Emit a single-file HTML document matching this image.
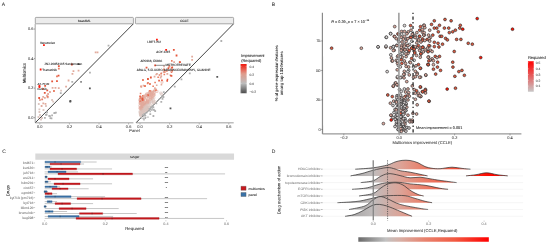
<!DOCTYPE html>
<html><head><meta charset="utf-8"><style>
html,body{margin:0;padding:0;background:#fff;width:550px;height:245px;overflow:hidden;}
svg{display:block;will-change:transform;}
text{font-family:"Liberation Sans",sans-serif;}
</style></head><body>
<svg width="550" height="245" viewBox="0 0 550 245">
<rect width="550" height="245" fill="#fff"/>
<g transform="matrix(1,0,0.001,1,-0.12,0)">
<text x="1.8" y="6.1" font-size="5.0" text-anchor="start" fill="#333" stroke="#333" stroke-width="0.06" style="stroke-width:0.05">A</text>
<rect x="35.4" y="17.4" width="98.1" height="6.4" rx="0.8" fill="#ececec" stroke="#8c8c8c" stroke-width="0.75"/>
<text x="84.45" y="21.9" font-size="3.2" text-anchor="middle" fill="#222" stroke="#222" stroke-width="0.06" >beatAML</text>
<rect x="135.5" y="17.4" width="98.2" height="6.4" rx="0.8" fill="#ececec" stroke="#8c8c8c" stroke-width="0.75"/>
<text x="184.6" y="21.9" font-size="3.2" text-anchor="middle" fill="#222" stroke="#222" stroke-width="0.06" >CCLE</text>
<line x1="35.3" y1="23.8" x2="35.3" y2="122.6" stroke="#b8b8b8" stroke-width="1.3" />
<line x1="35.4" y1="122.7" x2="133.4" y2="122.7" stroke="#bdbdbd" stroke-width="1.4" />
<line x1="136.2" y1="122.7" x2="233.7" y2="122.7" stroke="#bdbdbd" stroke-width="1.4" />
<text x="33.5" y="30.12" font-size="3.95" text-anchor="end" fill="#333" stroke="#333" stroke-width="0.06" style="stroke-width:0.04">0.6</text>
<line x1="33.9" y1="29.02" x2="35" y2="29.02" stroke="#333" stroke-width="0.45" />
<text x="33.5" y="59.68" font-size="3.95" text-anchor="end" fill="#333" stroke="#333" stroke-width="0.06" style="stroke-width:0.04">0.4</text>
<line x1="33.9" y1="58.58" x2="35" y2="58.58" stroke="#333" stroke-width="0.45" />
<text x="33.5" y="89.24" font-size="3.95" text-anchor="end" fill="#333" stroke="#333" stroke-width="0.06" style="stroke-width:0.04">0.2</text>
<line x1="33.9" y1="88.14" x2="35" y2="88.14" stroke="#333" stroke-width="0.45" />
<text x="33.5" y="118.8" font-size="3.95" text-anchor="end" fill="#333" stroke="#333" stroke-width="0.06" style="stroke-width:0.04">0.0</text>
<line x1="33.9" y1="117.7" x2="35" y2="117.7" stroke="#333" stroke-width="0.45" />
<line x1="39.8" y1="123.4" x2="39.8" y2="124.4" stroke="#333" stroke-width="0.45" />
<text x="39.8" y="127.9" font-size="3.95" text-anchor="middle" fill="#333" stroke="#333" stroke-width="0.06" style="stroke-width:0.04">0.0</text>
<line x1="69.4" y1="123.4" x2="69.4" y2="124.4" stroke="#333" stroke-width="0.45" />
<text x="69.4" y="127.9" font-size="3.95" text-anchor="middle" fill="#333" stroke="#333" stroke-width="0.06" style="stroke-width:0.04">0.2</text>
<line x1="99" y1="123.4" x2="99" y2="124.4" stroke="#333" stroke-width="0.45" />
<text x="99" y="127.9" font-size="3.95" text-anchor="middle" fill="#333" stroke="#333" stroke-width="0.06" style="stroke-width:0.04">0.4</text>
<line x1="128.6" y1="123.4" x2="128.6" y2="124.4" stroke="#333" stroke-width="0.45" />
<text x="128.6" y="127.9" font-size="3.95" text-anchor="middle" fill="#333" stroke="#333" stroke-width="0.06" style="stroke-width:0.04">0.6</text>
<line x1="140" y1="123.4" x2="140" y2="124.4" stroke="#333" stroke-width="0.45" />
<text x="140" y="127.9" font-size="3.95" text-anchor="middle" fill="#333" stroke="#333" stroke-width="0.06" style="stroke-width:0.04">0.0</text>
<line x1="169.6" y1="123.4" x2="169.6" y2="124.4" stroke="#333" stroke-width="0.45" />
<text x="169.6" y="127.9" font-size="3.95" text-anchor="middle" fill="#333" stroke="#333" stroke-width="0.06" style="stroke-width:0.04">0.2</text>
<line x1="199.2" y1="123.4" x2="199.2" y2="124.4" stroke="#333" stroke-width="0.45" />
<text x="199.2" y="127.9" font-size="3.95" text-anchor="middle" fill="#333" stroke="#333" stroke-width="0.06" style="stroke-width:0.04">0.4</text>
<line x1="228.8" y1="123.4" x2="228.8" y2="124.4" stroke="#333" stroke-width="0.45" />
<text x="228.8" y="127.9" font-size="3.95" text-anchor="middle" fill="#333" stroke="#333" stroke-width="0.06" style="stroke-width:0.04">0.6</text>
<text x="134.5" y="132.4" font-size="4.1" text-anchor="middle" fill="#2a2a2a" stroke="#2a2a2a" stroke-width="0.06" style="stroke-width:0.03">Panel</text>
<text x="0" y="0" font-size="4.2" text-anchor="middle" fill="#222" stroke="#222" stroke-width="0.06" transform="translate(25.8,73) rotate(-90)">Multiomics</text>
<line x1="35.4" y1="122.6" x2="133.5" y2="23.8" stroke="#222" stroke-width="0.85" />
<line x1="136.2" y1="122.6" x2="233.7" y2="23.8" stroke="#222" stroke-width="0.85" />
<rect x="43.1" y="44.3" width="1.8" height="1.8" fill="#ff1a0d"/>
<rect x="58" y="65.3" width="1.8" height="1.8" fill="#e5553a"/>
<rect x="58" y="67.8" width="1.8" height="1.8" fill="#e97d62"/>
<rect x="39.8" y="68.6" width="1.8" height="1.8" fill="#ff1a0d"/>
<rect x="71" y="63.6" width="1.8" height="1.8" fill="#e5553a"/>
<rect x="72.6" y="70.2" width="1.8" height="1.8" fill="#e2ab9d"/>
<rect x="71.6" y="72.9" width="1.8" height="1.8" fill="#e2ab9d"/>
<rect x="77.7" y="69.8" width="1.8" height="1.8" fill="#e2ab9d"/>
<rect x="56.1" y="75.5" width="1.8" height="1.8" fill="#e97d62"/>
<rect x="57.7" y="74.7" width="1.8" height="1.8" fill="#e5553a"/>
<rect x="51.3" y="80.4" width="1.8" height="1.8" fill="#e5553a"/>
<rect x="56.1" y="80.2" width="1.8" height="1.8" fill="#e5553a"/>
<rect x="67.7" y="79.6" width="1.8" height="1.8" fill="#e2ab9d"/>
<rect x="71.4" y="81" width="1.8" height="1.8" fill="#b0b0b0"/>
<rect x="47.6" y="83" width="1.8" height="1.8" fill="#dcc6c0"/>
<rect x="44.3" y="84.9" width="1.8" height="1.8" fill="#e5553a"/>
<rect x="38.6" y="84.9" width="1.8" height="1.8" fill="#ff1a0d"/>
<rect x="38.6" y="86.1" width="1.8" height="1.8" fill="#ff1a0d"/>
<rect x="46.4" y="89.4" width="1.8" height="1.8" fill="#e5553a"/>
<rect x="51.7" y="86.9" width="1.8" height="1.8" fill="#e2ab9d"/>
<rect x="54.6" y="86.9" width="1.8" height="1.8" fill="#e2ab9d"/>
<rect x="57.9" y="87.3" width="1.8" height="1.8" fill="#e2ab9d"/>
<rect x="65.2" y="85.7" width="1.8" height="1.8" fill="#e2ab9d"/>
<rect x="60.2" y="89.8" width="1.8" height="1.8" fill="#dcc6c0"/>
<rect x="59.9" y="92.3" width="1.8" height="1.8" fill="#b0b0b0"/>
<rect x="43.9" y="91.9" width="1.8" height="1.8" fill="#e5553a"/>
<rect x="47.2" y="93.1" width="1.8" height="1.8" fill="#e2ab9d"/>
<rect x="46" y="94.7" width="1.8" height="1.8" fill="#e2ab9d"/>
<rect x="42.3" y="96" width="1.8" height="1.8" fill="#e2ab9d"/>
<rect x="46.8" y="96.4" width="1.8" height="1.8" fill="#e2ab9d"/>
<rect x="69.5" y="100.1" width="1.8" height="1.8" fill="#555555"/>
<rect x="89" y="87.4" width="1.8" height="1.8" fill="#555555"/>
<rect x="80.2" y="80.9" width="1.8" height="1.8" fill="#8c8c8c"/>
<rect x="89.1" y="71.7" width="1.8" height="1.8" fill="#b0b0b0"/>
<rect x="77.7" y="63.2" width="1.8" height="1.8" fill="#555555"/>
<rect x="94.8" y="51.5" width="1.8" height="1.8" fill="#e2ab9d"/>
<rect x="96.7" y="51.5" width="1.8" height="1.8" fill="#e2ab9d"/>
<rect x="107.7" y="44.8" width="1.8" height="1.8" fill="#b0b0b0"/>
<rect x="53.9" y="112" width="1.8" height="1.8" fill="#b0b0b0"/>
<rect x="49" y="115.3" width="1.8" height="1.8" fill="#b0b0b0"/>
<rect x="50.6" y="117.5" width="1.8" height="1.8" fill="#b0b0b0"/>
<rect x="45.7" y="113.6" width="1.8" height="1.8" fill="#b0b0b0"/>
<rect x="44" y="116.9" width="1.8" height="1.8" fill="#b0b0b0"/>
<rect x="39.1" y="99.1" width="1.8" height="1.8" fill="#e2ab9d"/>
<rect x="41.3" y="98.5" width="1.8" height="1.8" fill="#e97d62"/>
<rect x="44" y="96.9" width="1.8" height="1.8" fill="#e2ab9d"/>
<rect x="46.8" y="95.8" width="1.8" height="1.8" fill="#e97d62"/>
<rect x="42.4" y="102.4" width="1.8" height="1.8" fill="#e2ab9d"/>
<rect x="44.6" y="102.9" width="1.8" height="1.8" fill="#e2ab9d"/>
<rect x="40.7" y="105.1" width="1.8" height="1.8" fill="#e2ab9d"/>
<rect x="45.1" y="105.1" width="1.8" height="1.8" fill="#dcc6c0"/>
<rect x="51.2" y="99.1" width="1.8" height="1.8" fill="#dcc6c0"/>
<rect x="52.3" y="100.7" width="1.8" height="1.8" fill="#dcc6c0"/>
<rect x="38.5" y="108.4" width="1.8" height="1.8" fill="#dcc6c0"/>
<rect x="38.5" y="111.1" width="1.8" height="1.8" fill="#dcc6c0"/>
<rect x="39.1" y="114.1" width="1.8" height="1.8" fill="#dcc6c0"/>
<rect x="41.1" y="117.1" width="1.8" height="1.8" fill="#dcc6c0"/>
<rect x="37.6" y="116.1" width="1.8" height="1.8" fill="#dcc6c0"/>
<rect x="40.1" y="118.6" width="1.8" height="1.8" fill="#dcc6c0"/>
<rect x="45.1" y="113.9" width="1.8" height="1.8" fill="#b0b0b0"/>
<rect x="48.4" y="115.1" width="1.8" height="1.8" fill="#b0b0b0"/>
<rect x="49.5" y="117.3" width="1.8" height="1.8" fill="#b0b0b0"/>
<rect x="53.4" y="112.3" width="1.8" height="1.8" fill="#b0b0b0"/>
<rect x="55" y="111.7" width="1.8" height="1.8" fill="#b0b0b0"/>
<rect x="46.2" y="111.2" width="1.8" height="1.8" fill="#b0b0b0"/>
<rect x="51.2" y="114.5" width="1.8" height="1.8" fill="#b0b0b0"/>
<rect x="69.4" y="100.7" width="1.8" height="1.8" fill="#555555"/>
<rect x="49.1" y="91.1" width="1.8" height="1.8" fill="#e2ab9d"/>
<rect x="53.1" y="90.1" width="1.8" height="1.8" fill="#e97d62"/>
<rect x="42.1" y="88.1" width="1.8" height="1.8" fill="#e97d62"/>
<rect x="38.3" y="97.1" width="1.8" height="1.8" fill="#e5553a"/>
<rect x="37.9" y="103.1" width="1.8" height="1.8" fill="#dcc6c0"/>
<rect x="42.6" y="109.1" width="1.8" height="1.8" fill="#dcc6c0"/>
<rect x="156.1" y="38.8" width="1.8" height="1.8" fill="#ff1a0d"/>
<rect x="165.3" y="49" width="1.8" height="1.8" fill="#ff1a0d"/>
<rect x="173" y="49" width="1.8" height="1.8" fill="#e5553a"/>
<rect x="175.7" y="54.6" width="1.8" height="1.8" fill="#e5553a"/>
<rect x="173.3" y="61.3" width="1.8" height="1.8" fill="#e2ab9d"/>
<rect x="178.8" y="61.3" width="1.8" height="1.8" fill="#e2ab9d"/>
<rect x="154.3" y="64.4" width="1.8" height="1.8" fill="#e5553a"/>
<rect x="145.7" y="66.8" width="1.8" height="1.8" fill="#e5553a"/>
<rect x="156.1" y="73" width="1.8" height="1.8" fill="#e2ab9d"/>
<rect x="162.9" y="71.1" width="1.8" height="1.8" fill="#e2ab9d"/>
<rect x="166.5" y="73" width="1.8" height="1.8" fill="#e2ab9d"/>
<rect x="169.6" y="74.2" width="1.8" height="1.8" fill="#e2ab9d"/>
<rect x="150" y="76.6" width="1.8" height="1.8" fill="#e5553a"/>
<rect x="153.7" y="75.8" width="1.8" height="1.8" fill="#e2ab9d"/>
<rect x="159.8" y="76.6" width="1.8" height="1.8" fill="#e2ab9d"/>
<rect x="191.3" y="55.8" width="1.8" height="1.8" fill="#e2ab9d"/>
<rect x="191.3" y="58.9" width="1.8" height="1.8" fill="#e2ab9d"/>
<rect x="179.1" y="61.3" width="1.8" height="1.8" fill="#e5553a"/>
<rect x="216.4" y="76" width="1.8" height="1.8" fill="#555555"/>
<rect x="188.9" y="72.4" width="1.8" height="1.8" fill="#b0b0b0"/>
<rect x="220.5" y="40.1" width="1.8" height="1.8" fill="#b0b0b0"/>
<rect x="173.9" y="85.7" width="1.8" height="1.8" fill="#b0b0b0"/>
<rect x="180.6" y="78.4" width="1.8" height="1.8" fill="#b0b0b0"/>
<rect x="162.3" y="96.1" width="1.8" height="1.8" fill="#b0b0b0"/>
<rect x="162.9" y="91.2" width="1.8" height="1.8" fill="#b0b0b0"/>
<rect x="169.6" y="107.4" width="1.8" height="1.8" fill="#555555"/>
<rect x="161.6" y="97.9" width="1.8" height="1.8" fill="#b0b0b0"/>
<rect x="160.4" y="101" width="1.8" height="1.8" fill="#b0b0b0"/>
<rect x="152.5" y="109" width="1.8" height="1.8" fill="#b0b0b0"/>
<rect x="154.3" y="110.2" width="1.8" height="1.8" fill="#b0b0b0"/>
<rect x="152.5" y="115.1" width="1.8" height="1.8" fill="#b0b0b0"/>
<rect x="149.4" y="113.2" width="1.8" height="1.8" fill="#b0b0b0"/>
<rect x="147.1" y="78.1" width="1.8" height="1.8" fill="#e5553a"/>
<rect x="142.1" y="79.1" width="1.8" height="1.8" fill="#e97d62"/>
<rect x="144.1" y="85.1" width="1.8" height="1.8" fill="#e97d62"/>
<rect x="149.1" y="83.1" width="1.8" height="1.8" fill="#e97d62"/>
<rect x="140.79" y="103.42" width="2" height="2" fill="none" stroke="#e2ab9d" stroke-width="0.6"/>
<rect x="142.87" y="111.12" width="2" height="2" fill="none" stroke="#dcc6c0" stroke-width="0.6"/>
<rect x="146.27" y="107.93" width="2" height="2" fill="none" stroke="#dcc6c0" stroke-width="0.6"/>
<rect x="140.44" y="106.38" width="2" height="2" fill="none" stroke="#e2ab9d" stroke-width="0.6"/>
<rect x="147.14" y="106.93" width="2" height="2" fill="none" stroke="#dcc6c0" stroke-width="0.6"/>
<rect x="140.73" y="112.98" width="2" height="2" fill="none" stroke="#dcc6c0" stroke-width="0.6"/>
<rect x="152.27" y="101.2" width="2" height="2" fill="none" stroke="#dcc6c0" stroke-width="0.6"/>
<rect x="145.67" y="106.23" width="2" height="2" fill="none" stroke="#dcc6c0" stroke-width="0.6"/>
<rect x="152.47" y="94.36" width="2" height="2" fill="none" stroke="#e2ab9d" stroke-width="0.6"/>
<rect x="152.9" y="96.77" width="2" height="2" fill="none" stroke="#dcc6c0" stroke-width="0.6"/>
<rect x="141.19" y="99.11" width="2" height="2" fill="none" stroke="#e2ab9d" stroke-width="0.6"/>
<rect x="139.08" y="111.47" width="2" height="2" fill="none" stroke="#dcc6c0" stroke-width="0.6"/>
<rect x="141.22" y="109.13" width="2" height="2" fill="none" stroke="#dcc6c0" stroke-width="0.6"/>
<rect x="141.91" y="99.32" width="2" height="2" fill="none" stroke="#e2ab9d" stroke-width="0.6"/>
<rect x="143.23" y="101.49" width="2" height="2" fill="none" stroke="#e2ab9d" stroke-width="0.6"/>
<rect x="148.45" y="101.29" width="2" height="2" fill="none" stroke="#dcc6c0" stroke-width="0.6"/>
<rect x="141.5" y="112.64" width="2" height="2" fill="none" stroke="#dcc6c0" stroke-width="0.6"/>
<rect x="139.57" y="112.38" width="2" height="2" fill="none" stroke="#dcc6c0" stroke-width="0.6"/>
<rect x="142.35" y="107.97" width="2" height="2" fill="none" stroke="#dcc6c0" stroke-width="0.6"/>
<rect x="146.49" y="99.55" width="2" height="2" fill="none" stroke="#e2ab9d" stroke-width="0.6"/>
<rect x="145.28" y="96.89" width="2" height="2" fill="none" stroke="#e2ab9d" stroke-width="0.6"/>
<rect x="140.7" y="102.59" width="2" height="2" fill="none" stroke="#e2ab9d" stroke-width="0.6"/>
<rect x="139.1" y="107.27" width="2" height="2" fill="none" stroke="#e2ab9d" stroke-width="0.6"/>
<rect x="149.34" y="92.05" width="2" height="2" fill="none" stroke="#e2ab9d" stroke-width="0.6"/>
<rect x="139.57" y="98.02" width="2" height="2" fill="none" stroke="#e2ab9d" stroke-width="0.6"/>
<rect x="145.36" y="101.84" width="2" height="2" fill="none" stroke="#e2ab9d" stroke-width="0.6"/>
<rect x="142.5" y="96.58" width="2" height="2" fill="none" stroke="#e2ab9d" stroke-width="0.6"/>
<rect x="145.11" y="103.59" width="2" height="2" fill="none" stroke="#dcc6c0" stroke-width="0.6"/>
<rect x="141.88" y="104.16" width="2" height="2" fill="none" stroke="#e2ab9d" stroke-width="0.6"/>
<rect x="139.48" y="101.9" width="2" height="2" fill="none" stroke="#e2ab9d" stroke-width="0.6"/>
<rect x="141.79" y="107.88" width="2" height="2" fill="none" stroke="#dcc6c0" stroke-width="0.6"/>
<rect x="145.45" y="102.01" width="2" height="2" fill="none" stroke="#e2ab9d" stroke-width="0.6"/>
<rect x="139.6" y="114.06" width="2" height="2" fill="none" stroke="#dcc6c0" stroke-width="0.6"/>
<rect x="141.64" y="109.36" width="2" height="2" fill="none" stroke="#dcc6c0" stroke-width="0.6"/>
<rect x="139.68" y="102.86" width="2" height="2" fill="none" stroke="#e2ab9d" stroke-width="0.6"/>
<rect x="141.52" y="108.82" width="2" height="2" fill="none" stroke="#dcc6c0" stroke-width="0.6"/>
<rect x="149.57" y="99.09" width="2" height="2" fill="none" stroke="#dcc6c0" stroke-width="0.6"/>
<rect x="144.49" y="98.98" width="2" height="2" fill="none" stroke="#e2ab9d" stroke-width="0.6"/>
<rect x="144.4" y="94.89" width="2" height="2" fill="none" stroke="#e2ab9d" stroke-width="0.6"/>
<rect x="143.6" y="106.1" width="2" height="2" fill="none" stroke="#dcc6c0" stroke-width="0.6"/>
<rect x="145.99" y="106" width="2" height="2" fill="none" stroke="#dcc6c0" stroke-width="0.6"/>
<rect x="144.8" y="106.07" width="2" height="2" fill="none" stroke="#dcc6c0" stroke-width="0.6"/>
<rect x="139.3" y="99.52" width="2" height="2" fill="none" stroke="#e2ab9d" stroke-width="0.6"/>
<rect x="146.88" y="100.72" width="2" height="2" fill="none" stroke="#e2ab9d" stroke-width="0.6"/>
<rect x="142.84" y="108.09" width="2" height="2" fill="none" stroke="#dcc6c0" stroke-width="0.6"/>
<rect x="145.84" y="107.32" width="2" height="2" fill="none" stroke="#dcc6c0" stroke-width="0.6"/>
<rect x="148.03" y="96.11" width="2" height="2" fill="none" stroke="#e2ab9d" stroke-width="0.6"/>
<rect x="143.05" y="95.1" width="2" height="2" fill="none" stroke="#e2ab9d" stroke-width="0.6"/>
<rect x="141.97" y="109.67" width="2" height="2" fill="none" stroke="#dcc6c0" stroke-width="0.6"/>
<rect x="145.97" y="107.92" width="2" height="2" fill="none" stroke="#dcc6c0" stroke-width="0.6"/>
<rect x="145.64" y="109.08" width="2" height="2" fill="none" stroke="#dcc6c0" stroke-width="0.6"/>
<rect x="148.41" y="93.59" width="2" height="2" fill="none" stroke="#e2ab9d" stroke-width="0.6"/>
<rect x="141.44" y="111.5" width="2" height="2" fill="none" stroke="#dcc6c0" stroke-width="0.6"/>
<rect x="144.74" y="102.01" width="2" height="2" fill="none" stroke="#e2ab9d" stroke-width="0.6"/>
<rect x="144.2" y="109.08" width="2" height="2" fill="none" stroke="#dcc6c0" stroke-width="0.6"/>
<rect x="143.24" y="97.39" width="2" height="2" fill="none" stroke="#e2ab9d" stroke-width="0.6"/>
<rect x="150" y="93.84" width="2" height="2" fill="none" stroke="#e2ab9d" stroke-width="0.6"/>
<rect x="142.36" y="105.53" width="2" height="2" fill="none" stroke="#e2ab9d" stroke-width="0.6"/>
<rect x="152.52" y="92.65" width="2" height="2" fill="none" stroke="#e2ab9d" stroke-width="0.6"/>
<rect x="153.24" y="93.96" width="2" height="2" fill="none" stroke="#e2ab9d" stroke-width="0.6"/>
<rect x="145.24" y="102.47" width="2" height="2" fill="none" stroke="#e2ab9d" stroke-width="0.6"/>
<rect x="143.57" y="105.37" width="2" height="2" fill="none" stroke="#dcc6c0" stroke-width="0.6"/>
<rect x="147.28" y="101.28" width="2" height="2" fill="none" stroke="#dcc6c0" stroke-width="0.6"/>
<rect x="160.61" y="93.17" width="2" height="2" fill="none" stroke="#dcc6c0" stroke-width="0.6"/>
<rect x="141.75" y="104.12" width="2" height="2" fill="none" stroke="#e2ab9d" stroke-width="0.6"/>
<rect x="140.94" y="105.39" width="2" height="2" fill="none" stroke="#e2ab9d" stroke-width="0.6"/>
<rect x="149.36" y="104.73" width="2" height="2" fill="none" stroke="#dcc6c0" stroke-width="0.6"/>
<rect x="142.24" y="109.77" width="2" height="2" fill="none" stroke="#dcc6c0" stroke-width="0.6"/>
<rect x="146.93" y="92.56" width="2" height="2" fill="none" stroke="#e2ab9d" stroke-width="0.6"/>
<rect x="146.81" y="98.99" width="2" height="2" fill="none" stroke="#e2ab9d" stroke-width="0.6"/>
<rect x="142.68" y="104.69" width="2" height="2" fill="none" stroke="#e2ab9d" stroke-width="0.6"/>
<rect x="139.36" y="98.24" width="2" height="2" fill="none" stroke="#e97d62" stroke-width="0.6"/>
<rect x="142.14" y="111.44" width="2" height="2" fill="none" stroke="#dcc6c0" stroke-width="0.6"/>
<rect x="139.05" y="110.59" width="2" height="2" fill="none" stroke="#dcc6c0" stroke-width="0.6"/>
<rect x="140.12" y="112.54" width="2" height="2" fill="none" stroke="#dcc6c0" stroke-width="0.6"/>
<rect x="153.93" y="100.71" width="2" height="2" fill="none" stroke="#dcc6c0" stroke-width="0.6"/>
<rect x="148.21" y="104.87" width="2" height="2" fill="none" stroke="#dcc6c0" stroke-width="0.6"/>
<rect x="141.73" y="104.57" width="2" height="2" fill="none" stroke="#e2ab9d" stroke-width="0.6"/>
<rect x="148.54" y="90.85" width="2" height="2" fill="none" stroke="#e2ab9d" stroke-width="0.6"/>
<rect x="140.39" y="99.68" width="2" height="2" fill="none" stroke="#e2ab9d" stroke-width="0.6"/>
<rect x="140.8" y="108.53" width="2" height="2" fill="none" stroke="#dcc6c0" stroke-width="0.6"/>
<rect x="144.68" y="108.02" width="2" height="2" fill="none" stroke="#dcc6c0" stroke-width="0.6"/>
<rect x="140.08" y="101.58" width="2" height="2" fill="none" stroke="#e2ab9d" stroke-width="0.6"/>
<rect x="148.65" y="101.77" width="2" height="2" fill="none" stroke="#dcc6c0" stroke-width="0.6"/>
<rect x="141.21" y="96.61" width="2" height="2" fill="none" stroke="#e2ab9d" stroke-width="0.6"/>
<rect x="153.36" y="89.87" width="2" height="2" fill="none" stroke="#e2ab9d" stroke-width="0.6"/>
<rect x="144.26" y="107.53" width="2" height="2" fill="none" stroke="#dcc6c0" stroke-width="0.6"/>
<rect x="150.85" y="96.77" width="2" height="2" fill="none" stroke="#e2ab9d" stroke-width="0.6"/>
<rect x="139.92" y="114.61" width="2" height="2" fill="none" stroke="#dcc6c0" stroke-width="0.6"/>
<rect x="140.26" y="110.52" width="2" height="2" fill="none" stroke="#dcc6c0" stroke-width="0.6"/>
<rect x="139.42" y="98.62" width="2" height="2" fill="none" stroke="#e2ab9d" stroke-width="0.6"/>
<rect x="151.18" y="97.58" width="2" height="2" fill="none" stroke="#dcc6c0" stroke-width="0.6"/>
<rect x="161.05" y="81.15" width="2" height="2" fill="none" stroke="#e2ab9d" stroke-width="0.6"/>
<rect x="148.04" y="101.79" width="2" height="2" fill="none" stroke="#dcc6c0" stroke-width="0.6"/>
<rect x="139.78" y="112.32" width="2" height="2" fill="none" stroke="#dcc6c0" stroke-width="0.6"/>
<rect x="144.44" y="107.7" width="2" height="2" fill="none" stroke="#dcc6c0" stroke-width="0.6"/>
<rect x="151.14" y="91.16" width="2" height="2" fill="none" stroke="#e2ab9d" stroke-width="0.6"/>
<rect x="150.99" y="97.25" width="2" height="2" fill="none" stroke="#e2ab9d" stroke-width="0.6"/>
<rect x="147.06" y="106.82" width="2" height="2" fill="none" stroke="#dcc6c0" stroke-width="0.6"/>
<rect x="150.67" y="94.6" width="2" height="2" fill="none" stroke="#e2ab9d" stroke-width="0.6"/>
<rect x="150.69" y="93.07" width="2" height="2" fill="none" stroke="#e2ab9d" stroke-width="0.6"/>
<rect x="146.34" y="101.52" width="2" height="2" fill="none" stroke="#e2ab9d" stroke-width="0.6"/>
<rect x="144.94" y="105.22" width="2" height="2" fill="none" stroke="#dcc6c0" stroke-width="0.6"/>
<rect x="151.64" y="91.41" width="2" height="2" fill="none" stroke="#e2ab9d" stroke-width="0.6"/>
<rect x="146.75" y="102.41" width="2" height="2" fill="none" stroke="#dcc6c0" stroke-width="0.6"/>
<rect x="140.15" y="98.22" width="2" height="2" fill="none" stroke="#e2ab9d" stroke-width="0.6"/>
<rect x="139.49" y="113.68" width="2" height="2" fill="none" stroke="#dcc6c0" stroke-width="0.6"/>
<rect x="143.61" y="109.29" width="2" height="2" fill="none" stroke="#dcc6c0" stroke-width="0.6"/>
<rect x="150.9" y="102.25" width="2" height="2" fill="none" stroke="#dcc6c0" stroke-width="0.6"/>
<rect x="147.01" y="94.85" width="2" height="2" fill="none" stroke="#e2ab9d" stroke-width="0.6"/>
<rect x="150.53" y="99.68" width="2" height="2" fill="none" stroke="#dcc6c0" stroke-width="0.6"/>
<rect x="140.17" y="105.86" width="2" height="2" fill="none" stroke="#e2ab9d" stroke-width="0.6"/>
<rect x="139.64" y="98.15" width="2" height="2" fill="none" stroke="#e2ab9d" stroke-width="0.6"/>
<rect x="139.71" y="106.68" width="2" height="2" fill="none" stroke="#e2ab9d" stroke-width="0.6"/>
<rect x="146.64" y="94.34" width="2" height="2" fill="none" stroke="#e2ab9d" stroke-width="0.6"/>
<rect x="142.22" y="98.87" width="2" height="2" fill="none" stroke="#e2ab9d" stroke-width="0.6"/>
<rect x="140.21" y="110.34" width="2" height="2" fill="none" stroke="#dcc6c0" stroke-width="0.6"/>
<rect x="144.72" y="106.88" width="2" height="2" fill="none" stroke="#dcc6c0" stroke-width="0.6"/>
<rect x="144.1" y="104.57" width="2" height="2" fill="none" stroke="#dcc6c0" stroke-width="0.6"/>
<rect x="141.96" y="111.2" width="2" height="2" fill="none" stroke="#dcc6c0" stroke-width="0.6"/>
<rect x="145.13" y="102.97" width="2" height="2" fill="none" stroke="#e2ab9d" stroke-width="0.6"/>
<rect x="142.78" y="102.9" width="2" height="2" fill="none" stroke="#e2ab9d" stroke-width="0.6"/>
<rect x="145.72" y="94.25" width="2" height="2" fill="none" stroke="#e2ab9d" stroke-width="0.6"/>
<rect x="143.52" y="103.69" width="2" height="2" fill="none" stroke="#e2ab9d" stroke-width="0.6"/>
<rect x="148.42" y="106.24" width="2" height="2" fill="none" stroke="#dcc6c0" stroke-width="0.6"/>
<rect x="140.67" y="107.37" width="2" height="2" fill="none" stroke="#e2ab9d" stroke-width="0.6"/>
<rect x="139" y="102.11" width="2" height="2" fill="none" stroke="#e2ab9d" stroke-width="0.6"/>
<rect x="139.36" y="113.11" width="2" height="2" fill="none" stroke="#dcc6c0" stroke-width="0.6"/>
<rect x="151.61" y="95.47" width="2" height="2" fill="none" stroke="#e2ab9d" stroke-width="0.6"/>
<rect x="140.87" y="109.16" width="2" height="2" fill="none" stroke="#dcc6c0" stroke-width="0.6"/>
<rect x="149" y="93.93" width="2" height="2" fill="none" stroke="#e2ab9d" stroke-width="0.6"/>
<rect x="139.9" y="113.59" width="2" height="2" fill="none" stroke="#dcc6c0" stroke-width="0.6"/>
<rect x="144.42" y="106.6" width="2" height="2" fill="none" stroke="#dcc6c0" stroke-width="0.6"/>
<rect x="140.98" y="100.95" width="2" height="2" fill="none" stroke="#e2ab9d" stroke-width="0.6"/>
<rect x="149.15" y="94.22" width="2" height="2" fill="none" stroke="#e2ab9d" stroke-width="0.6"/>
<rect x="139.21" y="99.68" width="2" height="2" fill="none" stroke="#e2ab9d" stroke-width="0.6"/>
<rect x="149.21" y="98.46" width="2" height="2" fill="none" stroke="#e2ab9d" stroke-width="0.6"/>
<rect x="142.62" y="104.32" width="2" height="2" fill="none" stroke="#e2ab9d" stroke-width="0.6"/>
<rect x="141.85" y="104.64" width="2" height="2" fill="none" stroke="#e2ab9d" stroke-width="0.6"/>
<rect x="147.06" y="100.86" width="2" height="2" fill="none" stroke="#e2ab9d" stroke-width="0.6"/>
<rect x="150.48" y="91.08" width="2" height="2" fill="none" stroke="#e2ab9d" stroke-width="0.6"/>
<rect x="143.24" y="95.81" width="2" height="2" fill="none" stroke="#e2ab9d" stroke-width="0.6"/>
<rect x="139.33" y="98.96" width="2" height="2" fill="none" stroke="#e2ab9d" stroke-width="0.6"/>
<rect x="149.11" y="92.86" width="2" height="2" fill="none" stroke="#e2ab9d" stroke-width="0.6"/>
<rect x="141.4" y="106.66" width="2" height="2" fill="none" stroke="#e2ab9d" stroke-width="0.6"/>
<rect x="141.85" y="112.13" width="2" height="2" fill="none" stroke="#dcc6c0" stroke-width="0.6"/>
<rect x="138.89" y="104.67" width="2" height="2" fill="none" stroke="#e2ab9d" stroke-width="0.6"/>
<rect x="141.87" y="99.97" width="2" height="2" fill="none" stroke="#e2ab9d" stroke-width="0.6"/>
<rect x="142.47" y="100.74" width="2" height="2" fill="none" stroke="#e2ab9d" stroke-width="0.6"/>
<rect x="141.55" y="102.58" width="2" height="2" fill="none" stroke="#e2ab9d" stroke-width="0.6"/>
<rect x="149.2" y="90.51" width="2" height="2" fill="none" stroke="#e2ab9d" stroke-width="0.6"/>
<rect x="151.89" y="100.29" width="2" height="2" fill="none" stroke="#dcc6c0" stroke-width="0.6"/>
<rect x="146.55" y="101.18" width="2" height="2" fill="none" stroke="#e2ab9d" stroke-width="0.6"/>
<rect x="141.12" y="96.59" width="2" height="2" fill="none" stroke="#e2ab9d" stroke-width="0.6"/>
<rect x="143.27" y="103.67" width="2" height="2" fill="none" stroke="#e2ab9d" stroke-width="0.6"/>
<rect x="146.05" y="104.06" width="2" height="2" fill="none" stroke="#dcc6c0" stroke-width="0.6"/>
<rect x="141.09" y="101.82" width="2" height="2" fill="none" stroke="#e2ab9d" stroke-width="0.6"/>
<rect x="145.42" y="109.22" width="2" height="2" fill="none" stroke="#dcc6c0" stroke-width="0.6"/>
<rect x="146.97" y="107.69" width="2" height="2" fill="none" stroke="#dcc6c0" stroke-width="0.6"/>
<rect x="141.63" y="108.36" width="2" height="2" fill="none" stroke="#dcc6c0" stroke-width="0.6"/>
<rect x="145.65" y="108.48" width="2" height="2" fill="none" stroke="#dcc6c0" stroke-width="0.6"/>
<rect x="145.55" y="93.12" width="2" height="2" fill="none" stroke="#e2ab9d" stroke-width="0.6"/>
<rect x="143.89" y="109.68" width="2" height="2" fill="none" stroke="#dcc6c0" stroke-width="0.6"/>
<rect x="159.81" y="92.08" width="2" height="2" fill="none" stroke="#dcc6c0" stroke-width="0.6"/>
<rect x="152.41" y="99.07" width="2" height="2" fill="none" stroke="#dcc6c0" stroke-width="0.6"/>
<rect x="142.19" y="111" width="2" height="2" fill="none" stroke="#dcc6c0" stroke-width="0.6"/>
<rect x="154.53" y="88.67" width="2" height="2" fill="none" stroke="#e2ab9d" stroke-width="0.6"/>
<rect x="147.11" y="104.31" width="2" height="2" fill="none" stroke="#dcc6c0" stroke-width="0.6"/>
<rect x="149.49" y="97.13" width="2" height="2" fill="none" stroke="#e2ab9d" stroke-width="0.6"/>
<rect x="153.43" y="91.54" width="2" height="2" fill="none" stroke="#e2ab9d" stroke-width="0.6"/>
<rect x="141.07" y="102.47" width="2" height="2" fill="none" stroke="#e2ab9d" stroke-width="0.6"/>
<rect x="140.2" y="108.07" width="2" height="2" fill="none" stroke="#e2ab9d" stroke-width="0.6"/>
<rect x="155.96" y="90.37" width="2" height="2" fill="none" stroke="#e2ab9d" stroke-width="0.6"/>
<rect x="147.15" y="95.18" width="2" height="2" fill="none" stroke="#e2ab9d" stroke-width="0.6"/>
<rect x="152.57" y="101.6" width="2" height="2" fill="none" stroke="#dcc6c0" stroke-width="0.6"/>
<rect x="146.76" y="94.41" width="2" height="2" fill="none" stroke="#e2ab9d" stroke-width="0.6"/>
<rect x="145.8" y="100.73" width="2" height="2" fill="none" stroke="#e2ab9d" stroke-width="0.6"/>
<rect x="140.83" y="98.08" width="2" height="2" fill="none" stroke="#e2ab9d" stroke-width="0.6"/>
<rect x="139.18" y="107.16" width="2" height="2" fill="none" stroke="#e2ab9d" stroke-width="0.6"/>
<rect x="142.96" y="108.6" width="2" height="2" fill="none" stroke="#dcc6c0" stroke-width="0.6"/>
<rect x="142.44" y="111.83" width="2" height="2" fill="none" stroke="#dcc6c0" stroke-width="0.6"/>
<rect x="141.77" y="110.32" width="2" height="2" fill="none" stroke="#dcc6c0" stroke-width="0.6"/>
<rect x="141.34" y="100.89" width="2" height="2" fill="none" stroke="#e2ab9d" stroke-width="0.6"/>
<rect x="145.13" y="105.72" width="2" height="2" fill="none" stroke="#dcc6c0" stroke-width="0.6"/>
<rect x="143.8" y="106.05" width="2" height="2" fill="none" stroke="#dcc6c0" stroke-width="0.6"/>
<rect x="139.79" y="97.21" width="1.6" height="1.6" fill="#e97d62"/>
<rect x="139.8" y="92.67" width="1.6" height="1.6" fill="#e97d62"/>
<rect x="155.94" y="84.39" width="1.6" height="1.6" fill="#e2ab9d"/>
<rect x="142.66" y="84.83" width="1.6" height="1.6" fill="#e2ab9d"/>
<rect x="160.58" y="75.36" width="1.6" height="1.6" fill="#e2ab9d"/>
<rect x="170.79" y="71.42" width="1.6" height="1.6" fill="#e97d62"/>
<rect x="171.19" y="70.49" width="1.6" height="1.6" fill="#e97d62"/>
<rect x="152.38" y="85.43" width="1.6" height="1.6" fill="#e97d62"/>
<rect x="166.45" y="80.09" width="1.6" height="1.6" fill="#e5553a"/>
<rect x="153.22" y="89.93" width="1.6" height="1.6" fill="#e2ab9d"/>
<rect x="167.54" y="67.58" width="1.6" height="1.6" fill="#e5553a"/>
<rect x="158.7" y="74.26" width="1.6" height="1.6" fill="#e97d62"/>
<rect x="154.16" y="87.37" width="1.6" height="1.6" fill="#e2ab9d"/>
<rect x="139.32" y="95.57" width="1.6" height="1.6" fill="#e5553a"/>
<rect x="170.87" y="67.12" width="1.6" height="1.6" fill="#e97d62"/>
<rect x="140.32" y="85.57" width="1.6" height="1.6" fill="#e97d62"/>
<rect x="150.81" y="92.83" width="1.6" height="1.6" fill="#e2ab9d"/>
<rect x="141.93" y="94.99" width="1.6" height="1.6" fill="#e97d62"/>
<rect x="147.28" y="81.9" width="1.6" height="1.6" fill="#e97d62"/>
<rect x="147.8" y="93.66" width="1.6" height="1.6" fill="#e2ab9d"/>
<rect x="158.31" y="79.87" width="1.6" height="1.6" fill="#e5553a"/>
<rect x="149.11" y="90.08" width="1.6" height="1.6" fill="#e97d62"/>
<rect x="160.61" y="72.32" width="1.6" height="1.6" fill="#e2ab9d"/>
<rect x="164.09" y="69.46" width="1.6" height="1.6" fill="#e2ab9d"/>
<rect x="144.07" y="85.39" width="1.6" height="1.6" fill="#e97d62"/>
<rect x="140.63" y="86.17" width="1.6" height="1.6" fill="#e2ab9d"/>
<rect x="163.09" y="68.62" width="1.6" height="1.6" fill="#e97d62"/>
<rect x="168.83" y="65.1" width="1.6" height="1.6" fill="#e97d62"/>
<rect x="166.11" y="70.26" width="1.6" height="1.6" fill="#e97d62"/>
<rect x="141.97" y="99.16" width="1.6" height="1.6" fill="#e5553a"/>
<rect x="170.44" y="70.48" width="1.6" height="1.6" fill="#e2ab9d"/>
<rect x="157.39" y="76.46" width="1.6" height="1.6" fill="#e97d62"/>
<rect x="155.13" y="89.33" width="1.6" height="1.6" fill="#e97d62"/>
<rect x="163.56" y="73.73" width="1.6" height="1.6" fill="#e97d62"/>
<rect x="160.67" y="83.8" width="1.6" height="1.6" fill="#e2ab9d"/>
<rect x="147.41" y="94.24" width="1.6" height="1.6" fill="#e5553a"/>
<rect x="146.84" y="82.6" width="1.6" height="1.6" fill="#e97d62"/>
<rect x="163.29" y="65.57" width="1.6" height="1.6" fill="#e2ab9d"/>
<rect x="166.73" y="78.76" width="1.6" height="1.6" fill="#e5553a"/>
<rect x="164.17" y="71.23" width="1.6" height="1.6" fill="#e97d62"/>
<rect x="141.72" y="97.49" width="1.6" height="1.6" fill="#e5553a"/>
<rect x="160.41" y="72.88" width="1.6" height="1.6" fill="#e97d62"/>
<rect x="139.61" y="100.72" width="1.6" height="1.6" fill="#e5553a"/>
<rect x="170.86" y="75.06" width="1.6" height="1.6" fill="#e97d62"/>
<rect x="161.2" y="79.38" width="1.6" height="1.6" fill="#e5553a"/>
<rect x="154.33" y="81.76" width="1.6" height="1.6" fill="#e97d62"/>
<rect x="171.54" y="66.54" width="1.6" height="1.6" fill="#e5553a"/>
<rect x="171.05" y="60.07" width="1.6" height="1.6" fill="#e97d62"/>
<rect x="148.63" y="93.23" width="1.6" height="1.6" fill="#e2ab9d"/>
<rect x="171.56" y="69.4" width="1.6" height="1.6" fill="#e97d62"/>
<rect x="141.63" y="98.58" width="1.6" height="1.6" fill="#e5553a"/>
<rect x="170.22" y="74.98" width="1.6" height="1.6" fill="#e5553a"/>
<rect x="168.08" y="66.58" width="1.6" height="1.6" fill="#e97d62"/>
<rect x="155.41" y="73.63" width="1.6" height="1.6" fill="#e2ab9d"/>
<rect x="140.01" y="101.41" width="1.6" height="1.6" fill="#e2ab9d"/>
<rect x="140.78" y="117.09" width="1.4" height="1.4" fill="#b0b0b0"/>
<rect x="150.38" y="106.48" width="1.4" height="1.4" fill="#b0b0b0"/>
<rect x="151.42" y="106.23" width="1.4" height="1.4" fill="#b0b0b0"/>
<rect x="144.47" y="113.43" width="1.4" height="1.4" fill="#b0b0b0"/>
<rect x="148.79" y="109.49" width="1.4" height="1.4" fill="#b0b0b0"/>
<rect x="149.66" y="108.92" width="1.4" height="1.4" fill="#b0b0b0"/>
<rect x="143.3" y="119.05" width="1.4" height="1.4" fill="#b0b0b0"/>
<rect x="142.03" y="114.3" width="1.4" height="1.4" fill="#b0b0b0"/>
<rect x="144.58" y="117.49" width="1.4" height="1.4" fill="#b0b0b0"/>
<rect x="154.1" y="109.69" width="1.4" height="1.4" fill="#b0b0b0"/>
<rect x="151.68" y="104.89" width="1.4" height="1.4" fill="#b0b0b0"/>
<rect x="161.1" y="95.46" width="1.4" height="1.4" fill="#b0b0b0"/>
<rect x="144.09" y="114.97" width="1.4" height="1.4" fill="#b0b0b0"/>
<rect x="153.3" y="108.86" width="1.4" height="1.4" fill="#b0b0b0"/>
<rect x="162.98" y="96.32" width="1.4" height="1.4" fill="#b0b0b0"/>
<rect x="144.3" y="112.95" width="1.4" height="1.4" fill="#b0b0b0"/>
<rect x="158.76" y="98.38" width="1.4" height="1.4" fill="#b0b0b0"/>
<rect x="141.88" y="114.69" width="1.4" height="1.4" fill="#b0b0b0"/>
<rect x="151.22" y="108.43" width="1.4" height="1.4" fill="#b0b0b0"/>
<rect x="150.05" y="106.7" width="1.4" height="1.4" fill="#b0b0b0"/>
<rect x="144.85" y="114.94" width="1.4" height="1.4" fill="#b0b0b0"/>
<rect x="145.11" y="112.72" width="1.4" height="1.4" fill="#b0b0b0"/>
<rect x="144.52" y="114.69" width="1.4" height="1.4" fill="#b0b0b0"/>
<rect x="149.51" y="110.77" width="1.4" height="1.4" fill="#b0b0b0"/>
<rect x="147.66" y="110.47" width="1.4" height="1.4" fill="#b0b0b0"/>
<rect x="150.2" y="106.67" width="1.4" height="1.4" fill="#b0b0b0"/>
<rect x="148.58" y="108.11" width="1.4" height="1.4" fill="#b0b0b0"/>
<rect x="155.81" y="102.78" width="1.4" height="1.4" fill="#b0b0b0"/>
<rect x="145.03" y="116.74" width="1.4" height="1.4" fill="#b0b0b0"/>
<rect x="142.4" y="117.77" width="1.4" height="1.4" fill="#b0b0b0"/>
<rect x="150.94" y="109.25" width="1.4" height="1.4" fill="#b0b0b0"/>
<rect x="146.33" y="111.74" width="1.4" height="1.4" fill="#b0b0b0"/>
<rect x="152.9" y="106.6" width="1.4" height="1.4" fill="#b0b0b0"/>
<rect x="143.49" y="113.04" width="1.4" height="1.4" fill="#b0b0b0"/>
<rect x="151.7" y="107.26" width="1.4" height="1.4" fill="#b0b0b0"/>
<rect x="143.07" y="115.38" width="1.4" height="1.4" fill="#b0b0b0"/>
<rect x="152.53" y="105.28" width="1.4" height="1.4" fill="#b0b0b0"/>
<rect x="149.78" y="107.44" width="1.4" height="1.4" fill="#b0b0b0"/>
<rect x="147.26" y="116.46" width="1.4" height="1.4" fill="#b0b0b0"/>
<rect x="143.42" y="117.42" width="1.4" height="1.4" fill="#b0b0b0"/>
<text x="40" y="44.2" font-size="3.1" text-anchor="start" fill="#222" stroke="#222" stroke-width="0.06" >Venetoclax</text>
<text x="44.4" y="65" font-size="3.1" text-anchor="start" fill="#222" stroke="#222" stroke-width="0.06" >JNJ-26854165 Serdemetan</text>
<text x="42.4" y="71.3" font-size="3.1" text-anchor="start" fill="#222" stroke="#222" stroke-width="0.06" >Trametinib</text>
<text x="37.5" y="84.6" font-size="3.0" text-anchor="start" fill="#222" stroke="#222" stroke-width="0.06" >AT-7519</text>
<text x="37.5" y="90.5" font-size="3.0" text-anchor="start" fill="#222" stroke="#222" stroke-width="0.06" >Kutinib</text>
<text x="147.2" y="43.3" font-size="3.1" text-anchor="start" fill="#222" stroke="#222" stroke-width="0.06" >I-BET-762</text>
<text x="156.4" y="53.5" font-size="3.1" text-anchor="start" fill="#222" stroke="#222" stroke-width="0.06" >ACY-1215</text>
<text x="140.5" y="61.9" font-size="3.1" text-anchor="start" fill="#222" stroke="#222" stroke-width="0.06" >AP0968, FK866</text>
<line x1="155.5" y1="65.3" x2="165" y2="65.3" stroke="#222" stroke-width="0.5" />
<text x="165.6" y="66.4" font-size="3.1" text-anchor="start" fill="#222" stroke="#222" stroke-width="0.06" >METHOTREXATE</text>
<text x="136.8" y="70.7" font-size="3.1" text-anchor="start" fill="#222" stroke="#222" stroke-width="0.06" textLength="73.8" lengthAdjust="spacingAndGlyphs">ARA-G, 5-FLUORO-ARABINOFURANOSYL, GUANINE</text>
<text x="241.2" y="56.8" font-size="4.0" text-anchor="start" fill="#222" stroke="#222" stroke-width="0.06" >Improvement</text>
<text x="241.2" y="61.6" font-size="4.0" text-anchor="start" fill="#222" stroke="#222" stroke-width="0.06" >(Requared)</text>
<defs><linearGradient id="gA" x1="0" y1="0" x2="0" y2="1"><stop offset="0" stop-color="#f0180c"/><stop offset="0.33" stop-color="#e09a8a"/><stop offset="0.66" stop-color="#bdbdbd"/><stop offset="1" stop-color="#4a4a4a"/></linearGradient></defs>
<rect x="240.6" y="64" width="6.1" height="29.3" fill="url(#gA)" />
<line x1="240.6" y1="66.5" x2="241.6" y2="66.5" stroke="#fff" stroke-width="0.3" />
<line x1="245.7" y1="66.5" x2="246.7" y2="66.5" stroke="#fff" stroke-width="0.3" />
<text x="249.5" y="67.7" font-size="3.3" text-anchor="start" fill="#4d4d4d" stroke="#4d4d4d" stroke-width="0.06" >0.4</text>
<line x1="240.6" y1="75.1" x2="241.6" y2="75.1" stroke="#fff" stroke-width="0.3" />
<line x1="245.7" y1="75.1" x2="246.7" y2="75.1" stroke="#fff" stroke-width="0.3" />
<text x="249.5" y="76.3" font-size="3.3" text-anchor="start" fill="#4d4d4d" stroke="#4d4d4d" stroke-width="0.06" >0.2</text>
<line x1="240.6" y1="83.5" x2="241.6" y2="83.5" stroke="#fff" stroke-width="0.3" />
<line x1="245.7" y1="83.5" x2="246.7" y2="83.5" stroke="#fff" stroke-width="0.3" />
<text x="249.5" y="84.7" font-size="3.3" text-anchor="start" fill="#4d4d4d" stroke="#4d4d4d" stroke-width="0.06" >0.0</text>
<line x1="240.6" y1="92.2" x2="241.6" y2="92.2" stroke="#fff" stroke-width="0.3" />
<line x1="245.7" y1="92.2" x2="246.7" y2="92.2" stroke="#fff" stroke-width="0.3" />
<text x="249.5" y="93.4" font-size="3.3" text-anchor="start" fill="#4d4d4d" stroke="#4d4d4d" stroke-width="0.06" >−0.2</text>
<text x="271.8" y="6.1" font-size="5.0" text-anchor="start" fill="#333" stroke="#333" stroke-width="0.06" style="stroke-width:0.05">B</text>
<line x1="322.5" y1="12.8" x2="322.5" y2="134" stroke="#8a8a8a" stroke-width="1.2" />
<line x1="322.4" y1="133.9" x2="521.4" y2="133.9" stroke="#999" stroke-width="1.2" />
<line x1="320.9" y1="40.98" x2="322.7" y2="40.98" stroke="#444" stroke-width="0.4" />
<text x="320.6" y="42.28" font-size="3.95" text-anchor="end" fill="#333" stroke="#333" stroke-width="0.06" style="stroke-width:0.04">75</text>
<line x1="320.9" y1="70.45" x2="322.7" y2="70.45" stroke="#444" stroke-width="0.4" />
<text x="320.6" y="71.75" font-size="3.95" text-anchor="end" fill="#333" stroke="#333" stroke-width="0.06" style="stroke-width:0.04">50</text>
<line x1="320.9" y1="99.93" x2="322.7" y2="99.93" stroke="#444" stroke-width="0.4" />
<text x="320.6" y="101.23" font-size="3.95" text-anchor="end" fill="#333" stroke="#333" stroke-width="0.06" style="stroke-width:0.04">25</text>
<line x1="320.9" y1="129.4" x2="322.7" y2="129.4" stroke="#444" stroke-width="0.4" />
<text x="320.6" y="130.7" font-size="3.95" text-anchor="end" fill="#333" stroke="#333" stroke-width="0.06" style="stroke-width:0.04">0</text>
<line x1="343.8" y1="133.8" x2="343.8" y2="135.5" stroke="#444" stroke-width="0.4" />
<text x="343.8" y="139" font-size="3.95" text-anchor="middle" fill="#333" stroke="#333" stroke-width="0.06" style="stroke-width:0.04">−0.2</text>
<line x1="399.2" y1="133.8" x2="399.2" y2="135.5" stroke="#444" stroke-width="0.4" />
<text x="399.2" y="139" font-size="3.95" text-anchor="middle" fill="#333" stroke="#333" stroke-width="0.06" style="stroke-width:0.04">0.0</text>
<line x1="454.6" y1="133.8" x2="454.6" y2="135.5" stroke="#444" stroke-width="0.4" />
<text x="454.6" y="139" font-size="3.95" text-anchor="middle" fill="#333" stroke="#333" stroke-width="0.06" style="stroke-width:0.04">0.2</text>
<line x1="510" y1="133.8" x2="510" y2="135.5" stroke="#444" stroke-width="0.4" />
<text x="510" y="139" font-size="3.95" text-anchor="middle" fill="#333" stroke="#333" stroke-width="0.06" style="stroke-width:0.04">0.4</text>
<text x="422.3" y="143.8" font-size="4.15" text-anchor="middle" fill="#2a2a2a" stroke="#2a2a2a" stroke-width="0.06" style="stroke-width:0.03">Multiomics improvement (CCLE)</text>
<text font-size="4.15" text-anchor="middle" fill="#222" stroke="#222" stroke-width="0.04" transform="translate(278.0,73.4) rotate(-90)">% of gene expression features</text>
<text font-size="4.15" text-anchor="middle" fill="#222" stroke="#222" stroke-width="0.04" transform="translate(283.0,73.4) rotate(-90)">among top 100 features</text>
<text x="331.3" y="22.9" font-size="3.8" fill="#222" stroke="#222" stroke-width="0.05"><tspan font-style="italic">R</tspan> = 0.39, <tspan font-style="italic">p</tspan> = 7 × 10<tspan font-size="2.6" dy="-1.5">−16</tspan></text>
<circle cx="331.7" cy="48.2" r="1.4" fill="#de5a40" stroke="#2a2a2a" stroke-width="0.65"/>
<circle cx="361.4" cy="48.2" r="1.4" fill="#dcaa9f" stroke="#2a2a2a" stroke-width="0.65"/>
<circle cx="378.2" cy="47" r="1.4" fill="#dcd6d6" stroke="#2a2a2a" stroke-width="0.65"/>
<circle cx="386" cy="47" r="1.4" fill="#dcaa9f" stroke="#2a2a2a" stroke-width="0.65"/>
<circle cx="386.2" cy="37.4" r="1.4" fill="#dcd6d6" stroke="#2a2a2a" stroke-width="0.65"/>
<circle cx="387.2" cy="71.6" r="1.4" fill="#dcd6d6" stroke="#2a2a2a" stroke-width="0.65"/>
<circle cx="392.1" cy="61" r="1.4" fill="#dcaa9f" stroke="#2a2a2a" stroke-width="0.65"/>
<circle cx="397.6" cy="61.8" r="1.4" fill="#dcaa9f" stroke="#2a2a2a" stroke-width="0.65"/>
<circle cx="397.4" cy="77.5" r="1.4" fill="#dcaa9f" stroke="#2a2a2a" stroke-width="0.65"/>
<circle cx="395.2" cy="83.3" r="1.4" fill="#dcaa9f" stroke="#2a2a2a" stroke-width="0.65"/>
<circle cx="393.3" cy="86.3" r="1.4" fill="#de5a40" stroke="#2a2a2a" stroke-width="0.65"/>
<circle cx="397.6" cy="85.1" r="1.4" fill="#dcaa9f" stroke="#2a2a2a" stroke-width="0.65"/>
<circle cx="387.8" cy="95" r="1.4" fill="#de5a40" stroke="#2a2a2a" stroke-width="0.65"/>
<circle cx="392.3" cy="96.6" r="1.4" fill="#de5a40" stroke="#2a2a2a" stroke-width="0.65"/>
<circle cx="390.4" cy="103.2" r="1.4" fill="#dcaa9f" stroke="#2a2a2a" stroke-width="0.65"/>
<circle cx="393.7" cy="101.2" r="1.4" fill="#dcaa9f" stroke="#2a2a2a" stroke-width="0.65"/>
<circle cx="391.2" cy="115.4" r="1.4" fill="#dcaa9f" stroke="#2a2a2a" stroke-width="0.65"/>
<circle cx="391.2" cy="120" r="1.4" fill="#ff1100" stroke="#2a2a2a" stroke-width="0.65"/>
<circle cx="383.4" cy="123.6" r="1.4" fill="#dcaa9f" stroke="#2a2a2a" stroke-width="0.65"/>
<circle cx="394.8" cy="26.6" r="1.4" fill="#dcaa9f" stroke="#2a2a2a" stroke-width="0.65"/>
<circle cx="404.6" cy="25.6" r="1.4" fill="#dcd6d6" stroke="#2a2a2a" stroke-width="0.65"/>
<circle cx="410.7" cy="25.6" r="1.4" fill="#de5a40" stroke="#2a2a2a" stroke-width="0.65"/>
<circle cx="420.6" cy="26.6" r="1.4" fill="#de5a40" stroke="#2a2a2a" stroke-width="0.65"/>
<circle cx="423.9" cy="25.3" r="1.4" fill="#dcaa9f" stroke="#2a2a2a" stroke-width="0.65"/>
<circle cx="390.7" cy="33.5" r="1.4" fill="#dcd6d6" stroke="#2a2a2a" stroke-width="0.65"/>
<circle cx="394.3" cy="36.4" r="1.4" fill="#de5a40" stroke="#2a2a2a" stroke-width="0.65"/>
<circle cx="386.6" cy="37.2" r="1.4" fill="#dcd6d6" stroke="#2a2a2a" stroke-width="0.65"/>
<circle cx="398" cy="33.9" r="1.4" fill="#de5a40" stroke="#2a2a2a" stroke-width="0.65"/>
<circle cx="401.7" cy="31.5" r="1.4" fill="#dcaa9f" stroke="#2a2a2a" stroke-width="0.65"/>
<circle cx="404.6" cy="31.5" r="1.4" fill="#dcaa9f" stroke="#2a2a2a" stroke-width="0.65"/>
<circle cx="408.3" cy="31.9" r="1.4" fill="#dcaa9f" stroke="#2a2a2a" stroke-width="0.65"/>
<circle cx="411.1" cy="30.2" r="1.4" fill="#dcaa9f" stroke="#2a2a2a" stroke-width="0.65"/>
<circle cx="416.9" cy="32.7" r="1.4" fill="#dcaa9f" stroke="#2a2a2a" stroke-width="0.65"/>
<circle cx="419.8" cy="30.2" r="1.4" fill="#de5a40" stroke="#2a2a2a" stroke-width="0.65"/>
<circle cx="422.6" cy="32.3" r="1.4" fill="#dcaa9f" stroke="#2a2a2a" stroke-width="0.65"/>
<circle cx="424.3" cy="35.2" r="1.4" fill="#dcaa9f" stroke="#2a2a2a" stroke-width="0.65"/>
<circle cx="412.8" cy="33.9" r="1.4" fill="#dcd6d6" stroke="#2a2a2a" stroke-width="0.65"/>
<circle cx="415.2" cy="36" r="1.4" fill="#dcaa9f" stroke="#2a2a2a" stroke-width="0.65"/>
<circle cx="410.3" cy="37.2" r="1.4" fill="#de5a40" stroke="#2a2a2a" stroke-width="0.65"/>
<circle cx="404.6" cy="36.4" r="1.4" fill="#dcaa9f" stroke="#2a2a2a" stroke-width="0.65"/>
<circle cx="401.3" cy="37.2" r="1.4" fill="#dcaa9f" stroke="#2a2a2a" stroke-width="0.65"/>
<circle cx="419.3" cy="36.4" r="1.4" fill="#dcaa9f" stroke="#2a2a2a" stroke-width="0.65"/>
<circle cx="422.6" cy="38.9" r="1.4" fill="#de5a40" stroke="#2a2a2a" stroke-width="0.65"/>
<circle cx="398.4" cy="39.3" r="1.4" fill="#dcd6d6" stroke="#2a2a2a" stroke-width="0.65"/>
<circle cx="407" cy="38.9" r="1.4" fill="#dcaa9f" stroke="#2a2a2a" stroke-width="0.65"/>
<circle cx="417.7" cy="39.7" r="1.4" fill="#dcaa9f" stroke="#2a2a2a" stroke-width="0.65"/>
<circle cx="390.7" cy="33.8" r="1.4" fill="#dcd6d6" stroke="#2a2a2a" stroke-width="0.65"/>
<circle cx="394.8" cy="36.7" r="1.4" fill="#dcaa9f" stroke="#2a2a2a" stroke-width="0.65"/>
<circle cx="398.9" cy="34.6" r="1.4" fill="#dcaa9f" stroke="#2a2a2a" stroke-width="0.65"/>
<circle cx="401.7" cy="34.2" r="1.4" fill="#dcd6d6" stroke="#2a2a2a" stroke-width="0.65"/>
<circle cx="407" cy="33.8" r="1.4" fill="#dcaa9f" stroke="#2a2a2a" stroke-width="0.65"/>
<circle cx="412.4" cy="34.2" r="1.4" fill="#dcaa9f" stroke="#2a2a2a" stroke-width="0.65"/>
<circle cx="419.8" cy="36.3" r="1.4" fill="#de5a40" stroke="#2a2a2a" stroke-width="0.65"/>
<circle cx="423.9" cy="35" r="1.4" fill="#dcaa9f" stroke="#2a2a2a" stroke-width="0.65"/>
<circle cx="396.4" cy="38.7" r="1.4" fill="#dcaa9f" stroke="#2a2a2a" stroke-width="0.65"/>
<circle cx="403.4" cy="39.1" r="1.4" fill="#dcaa9f" stroke="#2a2a2a" stroke-width="0.65"/>
<circle cx="407.9" cy="38.7" r="1.4" fill="#dcaa9f" stroke="#2a2a2a" stroke-width="0.65"/>
<circle cx="411.1" cy="37.5" r="1.4" fill="#de5a40" stroke="#2a2a2a" stroke-width="0.65"/>
<circle cx="415.2" cy="37.5" r="1.4" fill="#dcaa9f" stroke="#2a2a2a" stroke-width="0.65"/>
<circle cx="418.9" cy="40" r="1.4" fill="#dcaa9f" stroke="#2a2a2a" stroke-width="0.65"/>
<circle cx="422.6" cy="40.4" r="1.4" fill="#de5a40" stroke="#2a2a2a" stroke-width="0.65"/>
<circle cx="398.9" cy="41.6" r="1.4" fill="#dcd6d6" stroke="#2a2a2a" stroke-width="0.65"/>
<circle cx="402.1" cy="42" r="1.4" fill="#dcaa9f" stroke="#2a2a2a" stroke-width="0.65"/>
<circle cx="406.2" cy="41.6" r="1.4" fill="#dcaa9f" stroke="#2a2a2a" stroke-width="0.65"/>
<circle cx="412" cy="41.2" r="1.4" fill="#dcd6d6" stroke="#2a2a2a" stroke-width="0.65"/>
<circle cx="416.9" cy="42.8" r="1.4" fill="#dcaa9f" stroke="#2a2a2a" stroke-width="0.65"/>
<circle cx="421" cy="42" r="1.4" fill="#dcaa9f" stroke="#2a2a2a" stroke-width="0.65"/>
<circle cx="386.1" cy="46.1" r="1.4" fill="#dcd6d6" stroke="#2a2a2a" stroke-width="0.65"/>
<circle cx="390.7" cy="47.8" r="1.4" fill="#dcaa9f" stroke="#2a2a2a" stroke-width="0.65"/>
<circle cx="393.5" cy="46.5" r="1.4" fill="#dcd6d6" stroke="#2a2a2a" stroke-width="0.65"/>
<circle cx="394.3" cy="50.2" r="1.4" fill="#dcaa9f" stroke="#2a2a2a" stroke-width="0.65"/>
<circle cx="396.8" cy="45.3" r="1.4" fill="#dcd6d6" stroke="#2a2a2a" stroke-width="0.65"/>
<circle cx="401.7" cy="45.7" r="1.4" fill="#dcaa9f" stroke="#2a2a2a" stroke-width="0.65"/>
<circle cx="404.6" cy="44.5" r="1.4" fill="#dcaa9f" stroke="#2a2a2a" stroke-width="0.65"/>
<circle cx="407.5" cy="45.7" r="1.4" fill="#dcaa9f" stroke="#2a2a2a" stroke-width="0.65"/>
<circle cx="409.5" cy="44.5" r="1.4" fill="#dcd6d6" stroke="#2a2a2a" stroke-width="0.65"/>
<circle cx="413.2" cy="46.5" r="1.4" fill="#dcaa9f" stroke="#2a2a2a" stroke-width="0.65"/>
<circle cx="404.6" cy="49.8" r="1.4" fill="#de5a40" stroke="#2a2a2a" stroke-width="0.65"/>
<circle cx="402.1" cy="48.6" r="1.4" fill="#dcaa9f" stroke="#2a2a2a" stroke-width="0.65"/>
<circle cx="407.5" cy="49.4" r="1.4" fill="#dcaa9f" stroke="#2a2a2a" stroke-width="0.65"/>
<circle cx="412" cy="48.2" r="1.4" fill="#dcaa9f" stroke="#2a2a2a" stroke-width="0.65"/>
<circle cx="414.4" cy="48.6" r="1.4" fill="#dcd6d6" stroke="#2a2a2a" stroke-width="0.65"/>
<circle cx="417.3" cy="47.3" r="1.4" fill="#dcaa9f" stroke="#2a2a2a" stroke-width="0.65"/>
<circle cx="420.2" cy="50.2" r="1.4" fill="#dcaa9f" stroke="#2a2a2a" stroke-width="0.65"/>
<circle cx="422.6" cy="47.3" r="1.4" fill="#de5a40" stroke="#2a2a2a" stroke-width="0.65"/>
<circle cx="423.4" cy="51.9" r="1.4" fill="#dcaa9f" stroke="#2a2a2a" stroke-width="0.65"/>
<circle cx="414.8" cy="51.9" r="1.4" fill="#dcaa9f" stroke="#2a2a2a" stroke-width="0.65"/>
<circle cx="408.7" cy="51.9" r="1.4" fill="#dcaa9f" stroke="#2a2a2a" stroke-width="0.65"/>
<circle cx="403" cy="51.9" r="1.4" fill="#dcd6d6" stroke="#2a2a2a" stroke-width="0.65"/>
<circle cx="434.4" cy="20.8" r="1.4" fill="#de5a40" stroke="#2a2a2a" stroke-width="0.65"/>
<circle cx="445.1" cy="19.5" r="1.4" fill="#de5a40" stroke="#2a2a2a" stroke-width="0.65"/>
<circle cx="451.2" cy="20.8" r="1.4" fill="#de5a40" stroke="#2a2a2a" stroke-width="0.65"/>
<circle cx="431.6" cy="24.4" r="1.4" fill="#de5a40" stroke="#2a2a2a" stroke-width="0.65"/>
<circle cx="439.6" cy="25.3" r="1.4" fill="#de5a40" stroke="#2a2a2a" stroke-width="0.65"/>
<circle cx="460.4" cy="25.3" r="1.4" fill="#de5a40" stroke="#2a2a2a" stroke-width="0.65"/>
<circle cx="462.8" cy="29.2" r="1.4" fill="#ff1100" stroke="#2a2a2a" stroke-width="0.65"/>
<circle cx="459.8" cy="28.1" r="1.4" fill="#de5a40" stroke="#2a2a2a" stroke-width="0.65"/>
<circle cx="434.4" cy="28.1" r="1.4" fill="#de5a40" stroke="#2a2a2a" stroke-width="0.65"/>
<circle cx="436.9" cy="28.1" r="1.4" fill="#de5a40" stroke="#2a2a2a" stroke-width="0.65"/>
<circle cx="444.5" cy="28.1" r="1.4" fill="#de5a40" stroke="#2a2a2a" stroke-width="0.65"/>
<circle cx="448.8" cy="28.1" r="1.4" fill="#de5a40" stroke="#2a2a2a" stroke-width="0.65"/>
<circle cx="455.5" cy="30.2" r="1.4" fill="#de5a40" stroke="#2a2a2a" stroke-width="0.65"/>
<circle cx="452.8" cy="31.8" r="1.4" fill="#de5a40" stroke="#2a2a2a" stroke-width="0.65"/>
<circle cx="449.4" cy="32.6" r="1.4" fill="#de5a40" stroke="#2a2a2a" stroke-width="0.65"/>
<circle cx="438.4" cy="31.8" r="1.4" fill="#de5a40" stroke="#2a2a2a" stroke-width="0.65"/>
<circle cx="429.8" cy="30.2" r="1.4" fill="#dcaa9f" stroke="#2a2a2a" stroke-width="0.65"/>
<circle cx="424.3" cy="25.3" r="1.4" fill="#dcaa9f" stroke="#2a2a2a" stroke-width="0.65"/>
<circle cx="424.9" cy="27.7" r="1.4" fill="#dcaa9f" stroke="#2a2a2a" stroke-width="0.65"/>
<circle cx="422.4" cy="29.6" r="1.4" fill="#dcaa9f" stroke="#2a2a2a" stroke-width="0.65"/>
<circle cx="424.3" cy="32.6" r="1.4" fill="#dcaa9f" stroke="#2a2a2a" stroke-width="0.65"/>
<circle cx="428.6" cy="35.1" r="1.4" fill="#dcaa9f" stroke="#2a2a2a" stroke-width="0.65"/>
<circle cx="432.9" cy="35.1" r="1.4" fill="#de5a40" stroke="#2a2a2a" stroke-width="0.65"/>
<circle cx="440.2" cy="36.3" r="1.4" fill="#de5a40" stroke="#2a2a2a" stroke-width="0.65"/>
<circle cx="441.8" cy="36.3" r="1.4" fill="#de5a40" stroke="#2a2a2a" stroke-width="0.65"/>
<circle cx="445.7" cy="38.4" r="1.4" fill="#de5a40" stroke="#2a2a2a" stroke-width="0.65"/>
<circle cx="456.7" cy="39.4" r="1.4" fill="#de5a40" stroke="#2a2a2a" stroke-width="0.65"/>
<circle cx="461" cy="39.4" r="1.4" fill="#de5a40" stroke="#2a2a2a" stroke-width="0.65"/>
<circle cx="427.3" cy="39.4" r="1.4" fill="#de5a40" stroke="#2a2a2a" stroke-width="0.65"/>
<circle cx="430.4" cy="37.5" r="1.4" fill="#dcaa9f" stroke="#2a2a2a" stroke-width="0.65"/>
<circle cx="477.3" cy="18.6" r="1.4" fill="#ff1100" stroke="#2a2a2a" stroke-width="0.65"/>
<circle cx="512.6" cy="29.2" r="1.4" fill="#ff1100" stroke="#2a2a2a" stroke-width="0.65"/>
<circle cx="447.5" cy="39.9" r="1.4" fill="#de5a40" stroke="#2a2a2a" stroke-width="0.65"/>
<circle cx="468.3" cy="43.3" r="1.4" fill="#de5a40" stroke="#2a2a2a" stroke-width="0.65"/>
<circle cx="472.4" cy="44.2" r="1.4" fill="#de5a40" stroke="#2a2a2a" stroke-width="0.65"/>
<circle cx="429.2" cy="38.7" r="1.4" fill="#dcaa9f" stroke="#2a2a2a" stroke-width="0.65"/>
<circle cx="424.9" cy="40.5" r="1.4" fill="#dcaa9f" stroke="#2a2a2a" stroke-width="0.65"/>
<circle cx="429.8" cy="41.1" r="1.4" fill="#dcaa9f" stroke="#2a2a2a" stroke-width="0.65"/>
<circle cx="434.4" cy="42.3" r="1.4" fill="#de5a40" stroke="#2a2a2a" stroke-width="0.65"/>
<circle cx="438.1" cy="43.3" r="1.4" fill="#de5a40" stroke="#2a2a2a" stroke-width="0.65"/>
<circle cx="442.6" cy="44.2" r="1.4" fill="#de5a40" stroke="#2a2a2a" stroke-width="0.65"/>
<circle cx="434.4" cy="46.6" r="1.4" fill="#de5a40" stroke="#2a2a2a" stroke-width="0.65"/>
<circle cx="439" cy="47" r="1.4" fill="#de5a40" stroke="#2a2a2a" stroke-width="0.65"/>
<circle cx="429.8" cy="46" r="1.4" fill="#dcaa9f" stroke="#2a2a2a" stroke-width="0.65"/>
<circle cx="423.1" cy="47.2" r="1.4" fill="#dcaa9f" stroke="#2a2a2a" stroke-width="0.65"/>
<circle cx="454.3" cy="51.5" r="1.4" fill="#de5a40" stroke="#2a2a2a" stroke-width="0.65"/>
<circle cx="430.4" cy="50.3" r="1.4" fill="#dcaa9f" stroke="#2a2a2a" stroke-width="0.65"/>
<circle cx="432.2" cy="51.5" r="1.4" fill="#dcaa9f" stroke="#2a2a2a" stroke-width="0.65"/>
<circle cx="428" cy="51.5" r="1.4" fill="#dcaa9f" stroke="#2a2a2a" stroke-width="0.65"/>
<circle cx="428.6" cy="57" r="1.4" fill="#dcaa9f" stroke="#2a2a2a" stroke-width="0.65"/>
<circle cx="432.2" cy="58.9" r="1.4" fill="#dcaa9f" stroke="#2a2a2a" stroke-width="0.65"/>
<circle cx="435.3" cy="56.4" r="1.4" fill="#de5a40" stroke="#2a2a2a" stroke-width="0.65"/>
<circle cx="439.6" cy="56.4" r="1.4" fill="#de5a40" stroke="#2a2a2a" stroke-width="0.65"/>
<circle cx="437.1" cy="57.6" r="1.4" fill="#dcaa9f" stroke="#2a2a2a" stroke-width="0.65"/>
<circle cx="430.4" cy="60.1" r="1.4" fill="#dcaa9f" stroke="#2a2a2a" stroke-width="0.65"/>
<circle cx="433.5" cy="60.7" r="1.4" fill="#dcaa9f" stroke="#2a2a2a" stroke-width="0.65"/>
<circle cx="437.7" cy="62.2" r="1.4" fill="#de5a40" stroke="#2a2a2a" stroke-width="0.65"/>
<circle cx="452.8" cy="62.2" r="1.4" fill="#de5a40" stroke="#2a2a2a" stroke-width="0.65"/>
<circle cx="428" cy="64.4" r="1.4" fill="#de5a40" stroke="#2a2a2a" stroke-width="0.65"/>
<circle cx="421" cy="47.9" r="1.4" fill="#dcaa9f" stroke="#2a2a2a" stroke-width="0.65"/>
<circle cx="421" cy="54" r="1.4" fill="#dcaa9f" stroke="#2a2a2a" stroke-width="0.65"/>
<circle cx="480.8" cy="57.6" r="1.4" fill="#ff1100" stroke="#2a2a2a" stroke-width="0.65"/>
<circle cx="428.3" cy="64.7" r="1.4" fill="#de5a40" stroke="#2a2a2a" stroke-width="0.65"/>
<circle cx="433.5" cy="64.7" r="1.4" fill="#dcaa9f" stroke="#2a2a2a" stroke-width="0.65"/>
<circle cx="437.5" cy="67.1" r="1.4" fill="#de5a40" stroke="#2a2a2a" stroke-width="0.65"/>
<circle cx="453" cy="67.1" r="1.4" fill="#de5a40" stroke="#2a2a2a" stroke-width="0.65"/>
<circle cx="420.6" cy="68.3" r="1.4" fill="#dcaa9f" stroke="#2a2a2a" stroke-width="0.65"/>
<circle cx="433.5" cy="69.2" r="1.4" fill="#de5a40" stroke="#2a2a2a" stroke-width="0.65"/>
<circle cx="440.6" cy="70.4" r="1.4" fill="#de5a40" stroke="#2a2a2a" stroke-width="0.65"/>
<circle cx="458.9" cy="71.6" r="1.4" fill="#de5a40" stroke="#2a2a2a" stroke-width="0.65"/>
<circle cx="462" cy="70.4" r="1.4" fill="#de5a40" stroke="#2a2a2a" stroke-width="0.65"/>
<circle cx="425.9" cy="75.3" r="1.4" fill="#dcaa9f" stroke="#2a2a2a" stroke-width="0.65"/>
<circle cx="435.7" cy="74.1" r="1.4" fill="#de5a40" stroke="#2a2a2a" stroke-width="0.65"/>
<circle cx="454.9" cy="76.3" r="1.4" fill="#de5a40" stroke="#2a2a2a" stroke-width="0.65"/>
<circle cx="464.4" cy="75.3" r="1.4" fill="#de5a40" stroke="#2a2a2a" stroke-width="0.65"/>
<circle cx="420.6" cy="77.1" r="1.4" fill="#dcaa9f" stroke="#2a2a2a" stroke-width="0.65"/>
<circle cx="420.6" cy="87.2" r="1.4" fill="#dcaa9f" stroke="#2a2a2a" stroke-width="0.65"/>
<circle cx="425.5" cy="89.4" r="1.4" fill="#dcaa9f" stroke="#2a2a2a" stroke-width="0.65"/>
<circle cx="447.2" cy="89.1" r="1.4" fill="#ff1100" stroke="#2a2a2a" stroke-width="0.65"/>
<circle cx="455.5" cy="88.2" r="1.4" fill="#de5a40" stroke="#2a2a2a" stroke-width="0.65"/>
<circle cx="422.4" cy="91.7" r="1.4" fill="#de5a40" stroke="#2a2a2a" stroke-width="0.65"/>
<circle cx="425.5" cy="90.5" r="1.4" fill="#dcaa9f" stroke="#2a2a2a" stroke-width="0.65"/>
<circle cx="425.5" cy="93" r="1.4" fill="#dcaa9f" stroke="#2a2a2a" stroke-width="0.65"/>
<circle cx="420.6" cy="96.6" r="1.4" fill="#dcaa9f" stroke="#2a2a2a" stroke-width="0.65"/>
<circle cx="429.2" cy="101.3" r="1.4" fill="#dcaa9f" stroke="#2a2a2a" stroke-width="0.65"/>
<circle cx="378.1" cy="46.8" r="1.4" fill="#dcd6d6" stroke="#2a2a2a" stroke-width="0.65"/>
<circle cx="393.4" cy="46.8" r="1.4" fill="#dcd6d6" stroke="#2a2a2a" stroke-width="0.65"/>
<circle cx="397" cy="45.6" r="1.4" fill="#dcaa9f" stroke="#2a2a2a" stroke-width="0.65"/>
<circle cx="401.3" cy="47.4" r="1.4" fill="#dcaa9f" stroke="#2a2a2a" stroke-width="0.65"/>
<circle cx="404.4" cy="46.2" r="1.4" fill="#dcaa9f" stroke="#2a2a2a" stroke-width="0.65"/>
<circle cx="408" cy="45.6" r="1.4" fill="#dcaa9f" stroke="#2a2a2a" stroke-width="0.65"/>
<circle cx="411.7" cy="48.1" r="1.4" fill="#de5a40" stroke="#2a2a2a" stroke-width="0.65"/>
<circle cx="415.4" cy="46.8" r="1.4" fill="#dcaa9f" stroke="#2a2a2a" stroke-width="0.65"/>
<circle cx="418.5" cy="45.6" r="1.4" fill="#de5a40" stroke="#2a2a2a" stroke-width="0.65"/>
<circle cx="422.7" cy="47.4" r="1.4" fill="#de5a40" stroke="#2a2a2a" stroke-width="0.65"/>
<circle cx="427.6" cy="48.1" r="1.4" fill="#dcaa9f" stroke="#2a2a2a" stroke-width="0.65"/>
<circle cx="428.9" cy="45.6" r="1.4" fill="#de5a40" stroke="#2a2a2a" stroke-width="0.65"/>
<circle cx="393.4" cy="50.5" r="1.4" fill="#dcaa9f" stroke="#2a2a2a" stroke-width="0.65"/>
<circle cx="401.3" cy="50.5" r="1.4" fill="#dcaa9f" stroke="#2a2a2a" stroke-width="0.65"/>
<circle cx="405" cy="49.9" r="1.4" fill="#dcaa9f" stroke="#2a2a2a" stroke-width="0.65"/>
<circle cx="409.3" cy="50.5" r="1.4" fill="#de5a40" stroke="#2a2a2a" stroke-width="0.65"/>
<circle cx="414.2" cy="49.3" r="1.4" fill="#de5a40" stroke="#2a2a2a" stroke-width="0.65"/>
<circle cx="419.7" cy="50.5" r="1.4" fill="#dcaa9f" stroke="#2a2a2a" stroke-width="0.65"/>
<circle cx="425.2" cy="49.9" r="1.4" fill="#dcaa9f" stroke="#2a2a2a" stroke-width="0.65"/>
<circle cx="390.9" cy="54.8" r="1.4" fill="#dcd6d6" stroke="#2a2a2a" stroke-width="0.65"/>
<circle cx="400.7" cy="54.2" r="1.4" fill="#dcd6d6" stroke="#2a2a2a" stroke-width="0.65"/>
<circle cx="408" cy="53.6" r="1.4" fill="#dcaa9f" stroke="#2a2a2a" stroke-width="0.65"/>
<circle cx="414.8" cy="53" r="1.4" fill="#de5a40" stroke="#2a2a2a" stroke-width="0.65"/>
<circle cx="420.9" cy="53.8" r="1.4" fill="#de5a40" stroke="#2a2a2a" stroke-width="0.65"/>
<circle cx="428.2" cy="51.7" r="1.4" fill="#de5a40" stroke="#2a2a2a" stroke-width="0.65"/>
<circle cx="391.5" cy="57.9" r="1.4" fill="#dcaa9f" stroke="#2a2a2a" stroke-width="0.65"/>
<circle cx="397.6" cy="56.6" r="1.4" fill="#dcd6d6" stroke="#2a2a2a" stroke-width="0.65"/>
<circle cx="402.5" cy="57.2" r="1.4" fill="#dcaa9f" stroke="#2a2a2a" stroke-width="0.65"/>
<circle cx="406.2" cy="56.6" r="1.4" fill="#dcaa9f" stroke="#2a2a2a" stroke-width="0.65"/>
<circle cx="411.7" cy="58.5" r="1.4" fill="#de5a40" stroke="#2a2a2a" stroke-width="0.65"/>
<circle cx="416.6" cy="55.4" r="1.4" fill="#dcaa9f" stroke="#2a2a2a" stroke-width="0.65"/>
<circle cx="420.3" cy="57.2" r="1.4" fill="#dcaa9f" stroke="#2a2a2a" stroke-width="0.65"/>
<circle cx="428.2" cy="57.2" r="1.4" fill="#dcaa9f" stroke="#2a2a2a" stroke-width="0.65"/>
<circle cx="392.7" cy="60.9" r="1.4" fill="#dcaa9f" stroke="#2a2a2a" stroke-width="0.65"/>
<circle cx="396.4" cy="60.3" r="1.4" fill="#dcaa9f" stroke="#2a2a2a" stroke-width="0.65"/>
<circle cx="401.3" cy="59.7" r="1.4" fill="#de5a40" stroke="#2a2a2a" stroke-width="0.65"/>
<circle cx="404.4" cy="60.9" r="1.4" fill="#dcaa9f" stroke="#2a2a2a" stroke-width="0.65"/>
<circle cx="409.9" cy="62.1" r="1.4" fill="#dcaa9f" stroke="#2a2a2a" stroke-width="0.65"/>
<circle cx="414.2" cy="60.3" r="1.4" fill="#dcd6d6" stroke="#2a2a2a" stroke-width="0.65"/>
<circle cx="428.9" cy="60.9" r="1.4" fill="#de5a40" stroke="#2a2a2a" stroke-width="0.65"/>
<circle cx="397.6" cy="63.4" r="1.4" fill="#dcaa9f" stroke="#2a2a2a" stroke-width="0.65"/>
<circle cx="401.9" cy="63.4" r="1.4" fill="#de5a40" stroke="#2a2a2a" stroke-width="0.65"/>
<circle cx="405.6" cy="63.4" r="1.4" fill="#dcaa9f" stroke="#2a2a2a" stroke-width="0.65"/>
<circle cx="410.5" cy="62.7" r="1.4" fill="#dcaa9f" stroke="#2a2a2a" stroke-width="0.65"/>
<circle cx="418.5" cy="64.6" r="1.4" fill="#de5a40" stroke="#2a2a2a" stroke-width="0.65"/>
<circle cx="428.2" cy="64.6" r="1.4" fill="#de5a40" stroke="#2a2a2a" stroke-width="0.65"/>
<circle cx="406.2" cy="66.4" r="1.4" fill="#dcaa9f" stroke="#2a2a2a" stroke-width="0.65"/>
<circle cx="408.7" cy="67" r="1.4" fill="#dcaa9f" stroke="#2a2a2a" stroke-width="0.65"/>
<circle cx="413.6" cy="67" r="1.4" fill="#dcd6d6" stroke="#2a2a2a" stroke-width="0.65"/>
<circle cx="416" cy="65.8" r="1.4" fill="#dcaa9f" stroke="#2a2a2a" stroke-width="0.65"/>
<circle cx="420.3" cy="68.3" r="1.4" fill="#de5a40" stroke="#2a2a2a" stroke-width="0.65"/>
<circle cx="404.4" cy="71.3" r="1.4" fill="#dcaa9f" stroke="#2a2a2a" stroke-width="0.65"/>
<circle cx="415.4" cy="71.3" r="1.4" fill="#dcaa9f" stroke="#2a2a2a" stroke-width="0.65"/>
<circle cx="417.2" cy="73.2" r="1.4" fill="#dcaa9f" stroke="#2a2a2a" stroke-width="0.65"/>
<circle cx="404.4" cy="74.4" r="1.4" fill="#dcaa9f" stroke="#2a2a2a" stroke-width="0.65"/>
<circle cx="403.8" cy="74.3" r="1.4" fill="#dcaa9f" stroke="#2a2a2a" stroke-width="0.65"/>
<circle cx="417.2" cy="74.3" r="1.4" fill="#dcaa9f" stroke="#2a2a2a" stroke-width="0.65"/>
<circle cx="409.3" cy="74.9" r="1.4" fill="#dcaa9f" stroke="#2a2a2a" stroke-width="0.65"/>
<circle cx="425.8" cy="74.9" r="1.4" fill="#dcaa9f" stroke="#2a2a2a" stroke-width="0.65"/>
<circle cx="397.6" cy="76.7" r="1.4" fill="#dcd6d6" stroke="#2a2a2a" stroke-width="0.65"/>
<circle cx="401.3" cy="77.3" r="1.4" fill="#dcaa9f" stroke="#2a2a2a" stroke-width="0.65"/>
<circle cx="413.6" cy="77.3" r="1.4" fill="#dcaa9f" stroke="#2a2a2a" stroke-width="0.65"/>
<circle cx="415.4" cy="76.7" r="1.4" fill="#dcaa9f" stroke="#2a2a2a" stroke-width="0.65"/>
<circle cx="419.7" cy="77.3" r="1.4" fill="#dcaa9f" stroke="#2a2a2a" stroke-width="0.65"/>
<circle cx="406.8" cy="81.6" r="1.4" fill="#dcaa9f" stroke="#2a2a2a" stroke-width="0.65"/>
<circle cx="395.8" cy="82.9" r="1.4" fill="#dcaa9f" stroke="#2a2a2a" stroke-width="0.65"/>
<circle cx="393.4" cy="85.9" r="1.4" fill="#dcaa9f" stroke="#2a2a2a" stroke-width="0.65"/>
<circle cx="397" cy="84.7" r="1.4" fill="#dcaa9f" stroke="#2a2a2a" stroke-width="0.65"/>
<circle cx="412.3" cy="85.9" r="1.4" fill="#dcaa9f" stroke="#2a2a2a" stroke-width="0.65"/>
<circle cx="420.3" cy="86.9" r="1.4" fill="#de5a40" stroke="#2a2a2a" stroke-width="0.65"/>
<circle cx="399.5" cy="89.6" r="1.4" fill="#dcd6d6" stroke="#2a2a2a" stroke-width="0.65"/>
<circle cx="404.4" cy="89" r="1.4" fill="#dcd6d6" stroke="#2a2a2a" stroke-width="0.65"/>
<circle cx="408" cy="89" r="1.4" fill="#dcaa9f" stroke="#2a2a2a" stroke-width="0.65"/>
<circle cx="414.2" cy="89.6" r="1.4" fill="#dcaa9f" stroke="#2a2a2a" stroke-width="0.65"/>
<circle cx="416.6" cy="90.8" r="1.4" fill="#de5a40" stroke="#2a2a2a" stroke-width="0.65"/>
<circle cx="422.7" cy="91.8" r="1.4" fill="#de5a40" stroke="#2a2a2a" stroke-width="0.65"/>
<circle cx="425.2" cy="90.2" r="1.4" fill="#de5a40" stroke="#2a2a2a" stroke-width="0.65"/>
<circle cx="401.3" cy="91.4" r="1.4" fill="#dcd6d6" stroke="#2a2a2a" stroke-width="0.65"/>
<circle cx="405.6" cy="92" r="1.4" fill="#dcaa9f" stroke="#2a2a2a" stroke-width="0.65"/>
<circle cx="408.7" cy="92.6" r="1.4" fill="#dcaa9f" stroke="#2a2a2a" stroke-width="0.65"/>
<circle cx="415.4" cy="93.3" r="1.4" fill="#dcaa9f" stroke="#2a2a2a" stroke-width="0.65"/>
<circle cx="418.5" cy="93.3" r="1.4" fill="#dcaa9f" stroke="#2a2a2a" stroke-width="0.65"/>
<circle cx="397" cy="95.7" r="1.4" fill="#d2cbcb" stroke="#2a2a2a" stroke-width="0.65"/>
<circle cx="400.7" cy="95.1" r="1.4" fill="#d2cbcb" stroke="#2a2a2a" stroke-width="0.65"/>
<circle cx="405.6" cy="96.3" r="1.4" fill="#de5a40" stroke="#2a2a2a" stroke-width="0.65"/>
<circle cx="408" cy="95.1" r="1.4" fill="#dcaa9f" stroke="#2a2a2a" stroke-width="0.65"/>
<circle cx="418.5" cy="95.7" r="1.4" fill="#dcaa9f" stroke="#2a2a2a" stroke-width="0.65"/>
<circle cx="420.9" cy="96.3" r="1.4" fill="#dcaa9f" stroke="#2a2a2a" stroke-width="0.65"/>
<circle cx="397.6" cy="98.8" r="1.4" fill="#d2cbcb" stroke="#2a2a2a" stroke-width="0.65"/>
<circle cx="401.3" cy="98.8" r="1.4" fill="#d2cbcb" stroke="#2a2a2a" stroke-width="0.65"/>
<circle cx="398.3" cy="96.2" r="1.4" fill="#d2cbcb" stroke="#2a2a2a" stroke-width="0.65"/>
<circle cx="409.3" cy="96.2" r="1.4" fill="#dcaa9f" stroke="#2a2a2a" stroke-width="0.65"/>
<circle cx="419.7" cy="95.6" r="1.4" fill="#dcaa9f" stroke="#2a2a2a" stroke-width="0.65"/>
<circle cx="397.6" cy="99.3" r="1.4" fill="#d2cbcb" stroke="#2a2a2a" stroke-width="0.65"/>
<circle cx="397.6" cy="104.2" r="1.4" fill="#d2cbcb" stroke="#2a2a2a" stroke-width="0.65"/>
<circle cx="401.3" cy="99.9" r="1.4" fill="#d2cbcb" stroke="#2a2a2a" stroke-width="0.65"/>
<circle cx="404.4" cy="100.5" r="1.4" fill="#dcaa9f" stroke="#2a2a2a" stroke-width="0.65"/>
<circle cx="408" cy="99.9" r="1.4" fill="#dcaa9f" stroke="#2a2a2a" stroke-width="0.65"/>
<circle cx="406.2" cy="104.2" r="1.4" fill="#dcaa9f" stroke="#2a2a2a" stroke-width="0.65"/>
<circle cx="415.4" cy="99.3" r="1.4" fill="#dcaa9f" stroke="#2a2a2a" stroke-width="0.65"/>
<circle cx="417.2" cy="104.8" r="1.4" fill="#dcaa9f" stroke="#2a2a2a" stroke-width="0.65"/>
<circle cx="428.9" cy="101.1" r="1.4" fill="#de5a40" stroke="#2a2a2a" stroke-width="0.65"/>
<circle cx="397.6" cy="108.5" r="1.4" fill="#d2cbcb" stroke="#2a2a2a" stroke-width="0.65"/>
<circle cx="403.2" cy="107.2" r="1.4" fill="#d2cbcb" stroke="#2a2a2a" stroke-width="0.65"/>
<circle cx="406.8" cy="107.2" r="1.4" fill="#dcaa9f" stroke="#2a2a2a" stroke-width="0.65"/>
<circle cx="398.9" cy="112.1" r="1.4" fill="#d2cbcb" stroke="#2a2a2a" stroke-width="0.65"/>
<circle cx="400.7" cy="113.4" r="1.4" fill="#de5a40" stroke="#2a2a2a" stroke-width="0.65"/>
<circle cx="403.8" cy="111.5" r="1.4" fill="#d2cbcb" stroke="#2a2a2a" stroke-width="0.65"/>
<circle cx="404.4" cy="113.4" r="1.4" fill="#dcaa9f" stroke="#2a2a2a" stroke-width="0.65"/>
<circle cx="408" cy="115.2" r="1.4" fill="#dcaa9f" stroke="#2a2a2a" stroke-width="0.65"/>
<circle cx="412.9" cy="113.4" r="1.4" fill="#dcaa9f" stroke="#2a2a2a" stroke-width="0.65"/>
<circle cx="416.6" cy="114" r="1.4" fill="#dcaa9f" stroke="#2a2a2a" stroke-width="0.65"/>
<circle cx="390.9" cy="115.2" r="1.4" fill="#dcaa9f" stroke="#2a2a2a" stroke-width="0.65"/>
<circle cx="395.8" cy="116.4" r="1.4" fill="#d2cbcb" stroke="#2a2a2a" stroke-width="0.65"/>
<circle cx="398.3" cy="118.3" r="1.4" fill="#d2cbcb" stroke="#2a2a2a" stroke-width="0.65"/>
<circle cx="401.3" cy="117.6" r="1.4" fill="#d2cbcb" stroke="#2a2a2a" stroke-width="0.65"/>
<circle cx="404.4" cy="118.9" r="1.4" fill="#dcaa9f" stroke="#2a2a2a" stroke-width="0.65"/>
<circle cx="396.4" cy="120.1" r="1.4" fill="#d2cbcb" stroke="#2a2a2a" stroke-width="0.65"/>
<circle cx="399.5" cy="121.3" r="1.4" fill="#d2cbcb" stroke="#2a2a2a" stroke-width="0.65"/>
<circle cx="409.9" cy="120.1" r="1.4" fill="#dcaa9f" stroke="#2a2a2a" stroke-width="0.65"/>
<circle cx="412.3" cy="120.1" r="1.4" fill="#dcaa9f" stroke="#2a2a2a" stroke-width="0.65"/>
<circle cx="409.9" cy="121.9" r="1.4" fill="#dcaa9f" stroke="#2a2a2a" stroke-width="0.65"/>
<circle cx="412.3" cy="121.9" r="1.4" fill="#dcaa9f" stroke="#2a2a2a" stroke-width="0.65"/>
<circle cx="396.4" cy="123.8" r="1.4" fill="#d2cbcb" stroke="#2a2a2a" stroke-width="0.65"/>
<circle cx="400.7" cy="123.8" r="1.4" fill="#d2cbcb" stroke="#2a2a2a" stroke-width="0.65"/>
<circle cx="395.2" cy="119.2" r="1.4" fill="#d2cbcb" stroke="#2a2a2a" stroke-width="0.65"/>
<circle cx="398.9" cy="118.6" r="1.4" fill="#d2cbcb" stroke="#2a2a2a" stroke-width="0.65"/>
<circle cx="402.5" cy="119.2" r="1.4" fill="#dcaa9f" stroke="#2a2a2a" stroke-width="0.65"/>
<circle cx="405" cy="118.6" r="1.4" fill="#d2cbcb" stroke="#2a2a2a" stroke-width="0.65"/>
<circle cx="396.4" cy="121.6" r="1.4" fill="#d2cbcb" stroke="#2a2a2a" stroke-width="0.65"/>
<circle cx="400.1" cy="122.2" r="1.4" fill="#d2cbcb" stroke="#2a2a2a" stroke-width="0.65"/>
<circle cx="404.4" cy="122.2" r="1.4" fill="#dcaa9f" stroke="#2a2a2a" stroke-width="0.65"/>
<circle cx="397" cy="124.7" r="1.4" fill="#d2cbcb" stroke="#2a2a2a" stroke-width="0.65"/>
<circle cx="400.7" cy="125.3" r="1.4" fill="#d2cbcb" stroke="#2a2a2a" stroke-width="0.65"/>
<circle cx="405" cy="124.1" r="1.4" fill="#dcaa9f" stroke="#2a2a2a" stroke-width="0.65"/>
<circle cx="401.9" cy="127.7" r="1.4" fill="#d2cbcb" stroke="#2a2a2a" stroke-width="0.65"/>
<circle cx="404.4" cy="127.1" r="1.4" fill="#d2cbcb" stroke="#2a2a2a" stroke-width="0.65"/>
<circle cx="399" cy="127" r="1.4" fill="#d2cbcb" stroke="#2a2a2a" stroke-width="0.65"/>
<circle cx="398" cy="129.5" r="1.4" fill="#d2cbcb" stroke="#2a2a2a" stroke-width="0.65"/>
<circle cx="402" cy="130" r="1.4" fill="#d2cbcb" stroke="#2a2a2a" stroke-width="0.65"/>
<circle cx="393" cy="105.5" r="1.4" fill="#d2cbcb" stroke="#2a2a2a" stroke-width="0.65"/>
<circle cx="395" cy="109.5" r="1.4" fill="#d2cbcb" stroke="#2a2a2a" stroke-width="0.65"/>
<circle cx="394" cy="112.5" r="1.4" fill="#d2cbcb" stroke="#2a2a2a" stroke-width="0.65"/>
<circle cx="402" cy="103" r="1.4" fill="#d2cbcb" stroke="#2a2a2a" stroke-width="0.65"/>
<circle cx="399" cy="106" r="1.4" fill="#d2cbcb" stroke="#2a2a2a" stroke-width="0.65"/>
<circle cx="400" cy="110" r="1.4" fill="#d2cbcb" stroke="#2a2a2a" stroke-width="0.65"/>
<circle cx="406" cy="110.5" r="1.4" fill="#d2cbcb" stroke="#2a2a2a" stroke-width="0.65"/>
<circle cx="396" cy="101.5" r="1.4" fill="#d2cbcb" stroke="#2a2a2a" stroke-width="0.65"/>
<circle cx="401" cy="102" r="1.4" fill="#d2cbcb" stroke="#2a2a2a" stroke-width="0.65"/>
<circle cx="393" cy="117.5" r="1.4" fill="#d2cbcb" stroke="#2a2a2a" stroke-width="0.65"/>
<circle cx="397" cy="114" r="1.4" fill="#d2cbcb" stroke="#2a2a2a" stroke-width="0.65"/>
<circle cx="402" cy="115.5" r="1.4" fill="#d2cbcb" stroke="#2a2a2a" stroke-width="0.65"/>
<circle cx="406" cy="121" r="1.4" fill="#d2cbcb" stroke="#2a2a2a" stroke-width="0.65"/>
<circle cx="395" cy="126.5" r="1.4" fill="#d2cbcb" stroke="#2a2a2a" stroke-width="0.65"/>
<circle cx="403" cy="125.8" r="1.4" fill="#d2cbcb" stroke="#2a2a2a" stroke-width="0.65"/>
<circle cx="407" cy="127.5" r="1.4" fill="#d2cbcb" stroke="#2a2a2a" stroke-width="0.65"/>
<circle cx="400" cy="131" r="1.4" fill="#d2cbcb" stroke="#2a2a2a" stroke-width="0.65"/>
<circle cx="405" cy="130.5" r="1.4" fill="#dcaa9f" stroke="#2a2a2a" stroke-width="0.65"/>
<circle cx="409" cy="128" r="1.4" fill="#d2cbcb" stroke="#2a2a2a" stroke-width="0.65"/>
<circle cx="401.2" cy="116.59" r="1.4" fill="#dcaa9f" stroke="#2a2a2a" stroke-width="0.65"/>
<circle cx="401.2" cy="126.93" r="1.4" fill="#d2cbcb" stroke="#2a2a2a" stroke-width="0.65"/>
<circle cx="398.12" cy="114.92" r="1.4" fill="#d2cbcb" stroke="#2a2a2a" stroke-width="0.65"/>
<circle cx="397.08" cy="107.62" r="1.4" fill="#d2cbcb" stroke="#2a2a2a" stroke-width="0.65"/>
<circle cx="402.19" cy="128.16" r="1.4" fill="#d2cbcb" stroke="#2a2a2a" stroke-width="0.65"/>
<circle cx="402.85" cy="110.87" r="1.4" fill="#dcaa9f" stroke="#2a2a2a" stroke-width="0.65"/>
<circle cx="403.52" cy="118.54" r="1.4" fill="#d2cbcb" stroke="#2a2a2a" stroke-width="0.65"/>
<circle cx="403.17" cy="126.11" r="1.4" fill="#d2cbcb" stroke="#2a2a2a" stroke-width="0.65"/>
<circle cx="396.68" cy="103.66" r="1.4" fill="#d2cbcb" stroke="#2a2a2a" stroke-width="0.65"/>
<circle cx="402.9" cy="124.23" r="1.4" fill="#d2cbcb" stroke="#2a2a2a" stroke-width="0.65"/>
<circle cx="401.07" cy="126.48" r="1.4" fill="#d2cbcb" stroke="#2a2a2a" stroke-width="0.65"/>
<circle cx="403.36" cy="114.49" r="1.4" fill="#d2cbcb" stroke="#2a2a2a" stroke-width="0.65"/>
<circle cx="401.26" cy="106.74" r="1.4" fill="#d2cbcb" stroke="#2a2a2a" stroke-width="0.65"/>
<circle cx="404.14" cy="108.03" r="1.4" fill="#d2cbcb" stroke="#2a2a2a" stroke-width="0.65"/>
<circle cx="401.9" cy="98.04" r="1.4" fill="#d2cbcb" stroke="#2a2a2a" stroke-width="0.65"/>
<circle cx="400.6" cy="126.63" r="1.4" fill="#dcaa9f" stroke="#2a2a2a" stroke-width="0.65"/>
<circle cx="396.77" cy="97.59" r="1.4" fill="#d2cbcb" stroke="#2a2a2a" stroke-width="0.65"/>
<circle cx="398.46" cy="129.45" r="1.4" fill="#d2cbcb" stroke="#2a2a2a" stroke-width="0.65"/>
<circle cx="401.4" cy="131.31" r="1.4" fill="#dcaa9f" stroke="#2a2a2a" stroke-width="0.65"/>
<circle cx="400.83" cy="116.82" r="1.4" fill="#d2cbcb" stroke="#2a2a2a" stroke-width="0.65"/>
<circle cx="404.95" cy="106.44" r="1.4" fill="#d2cbcb" stroke="#2a2a2a" stroke-width="0.65"/>
<circle cx="399.58" cy="97.53" r="1.4" fill="#dcaa9f" stroke="#2a2a2a" stroke-width="0.65"/>
<circle cx="404.72" cy="101.13" r="1.4" fill="#d2cbcb" stroke="#2a2a2a" stroke-width="0.65"/>
<circle cx="404.13" cy="97.38" r="1.4" fill="#dcaa9f" stroke="#2a2a2a" stroke-width="0.65"/>
<circle cx="405.17" cy="103.22" r="1.4" fill="#d2cbcb" stroke="#2a2a2a" stroke-width="0.65"/>
<circle cx="401.15" cy="103.67" r="1.4" fill="#d2cbcb" stroke="#2a2a2a" stroke-width="0.65"/>
<circle cx="400.82" cy="110.43" r="1.4" fill="#dcaa9f" stroke="#2a2a2a" stroke-width="0.65"/>
<circle cx="400.84" cy="104.45" r="1.4" fill="#d2cbcb" stroke="#2a2a2a" stroke-width="0.65"/>
<circle cx="405.94" cy="131.12" r="1.4" fill="#d2cbcb" stroke="#2a2a2a" stroke-width="0.65"/>
<circle cx="407.48" cy="97.69" r="1.4" fill="#d2cbcb" stroke="#2a2a2a" stroke-width="0.65"/>
<circle cx="400.53" cy="126.9" r="1.4" fill="#d2cbcb" stroke="#2a2a2a" stroke-width="0.65"/>
<circle cx="396.48" cy="102.12" r="1.4" fill="#dcaa9f" stroke="#2a2a2a" stroke-width="0.65"/>
<circle cx="398.97" cy="124.04" r="1.4" fill="#d2cbcb" stroke="#2a2a2a" stroke-width="0.65"/>
<circle cx="405.55" cy="110.52" r="1.4" fill="#d2cbcb" stroke="#2a2a2a" stroke-width="0.65"/>
<circle cx="397.04" cy="117.4" r="1.4" fill="#d2cbcb" stroke="#2a2a2a" stroke-width="0.65"/>
<circle cx="396.18" cy="109.9" r="1.4" fill="#dcaa9f" stroke="#2a2a2a" stroke-width="0.65"/>
<circle cx="397.46" cy="117.55" r="1.4" fill="#d2cbcb" stroke="#2a2a2a" stroke-width="0.65"/>
<circle cx="405.97" cy="103.4" r="1.4" fill="#d2cbcb" stroke="#2a2a2a" stroke-width="0.65"/>
<circle cx="399.57" cy="104.99" r="1.4" fill="#d2cbcb" stroke="#2a2a2a" stroke-width="0.65"/>
<circle cx="404.34" cy="102.55" r="1.4" fill="#d2cbcb" stroke="#2a2a2a" stroke-width="0.65"/>
<circle cx="403.9" cy="110.59" r="1.4" fill="#dcaa9f" stroke="#2a2a2a" stroke-width="0.65"/>
<circle cx="402.94" cy="111.75" r="1.4" fill="#d2cbcb" stroke="#2a2a2a" stroke-width="0.65"/>
<circle cx="397.25" cy="114.93" r="1.4" fill="#d2cbcb" stroke="#2a2a2a" stroke-width="0.65"/>
<circle cx="398.74" cy="121.66" r="1.4" fill="#d2cbcb" stroke="#2a2a2a" stroke-width="0.65"/>
<circle cx="400.84" cy="128.67" r="1.4" fill="#dcaa9f" stroke="#2a2a2a" stroke-width="0.65"/>
<circle cx="400.52" cy="56.91" r="1.4" fill="#dcd6d6" stroke="#2a2a2a" stroke-width="0.65"/>
<circle cx="398.52" cy="65.42" r="1.4" fill="#dcd6d6" stroke="#2a2a2a" stroke-width="0.65"/>
<circle cx="400.36" cy="77.69" r="1.4" fill="#dcd6d6" stroke="#2a2a2a" stroke-width="0.65"/>
<circle cx="405.99" cy="53.94" r="1.4" fill="#dcaa9f" stroke="#2a2a2a" stroke-width="0.65"/>
<circle cx="402.35" cy="53.69" r="1.4" fill="#dcd6d6" stroke="#2a2a2a" stroke-width="0.65"/>
<circle cx="400.38" cy="66.87" r="1.4" fill="#dcd6d6" stroke="#2a2a2a" stroke-width="0.65"/>
<circle cx="398.11" cy="55.88" r="1.4" fill="#dcaa9f" stroke="#2a2a2a" stroke-width="0.65"/>
<circle cx="408.77" cy="70.39" r="1.4" fill="#dcd6d6" stroke="#2a2a2a" stroke-width="0.65"/>
<circle cx="404.08" cy="77.86" r="1.4" fill="#dcaa9f" stroke="#2a2a2a" stroke-width="0.65"/>
<circle cx="407.92" cy="71.63" r="1.4" fill="#dcd6d6" stroke="#2a2a2a" stroke-width="0.65"/>
<circle cx="397.26" cy="69.81" r="1.4" fill="#dcaa9f" stroke="#2a2a2a" stroke-width="0.65"/>
<circle cx="397.81" cy="60.71" r="1.4" fill="#dcd6d6" stroke="#2a2a2a" stroke-width="0.65"/>
<line x1="399" y1="12.8" x2="399" y2="133.8" stroke="#999" stroke-width="1.5" />
<line x1="413.1" y1="12.7" x2="413.1" y2="133.8" stroke="#222" stroke-width="1.25" stroke-dasharray="1.4,2.4,3.2,2.4"/>
<text x="416" y="129.2" font-size="3.8" text-anchor="start" fill="#222" stroke="#222" stroke-width="0.06" >Mean improvement = 0.051</text>
<text x="528" y="58.8" font-size="4.05" text-anchor="start" fill="#222" stroke="#222" stroke-width="0.06" >Requared</text>
<defs><linearGradient id="gB" x1="0" y1="0" x2="0" y2="1"><stop offset="0" stop-color="#ff0000"/><stop offset="1" stop-color="#c8c8c8"/></linearGradient></defs>
<rect x="528" y="61.2" width="5.8" height="30.6" fill="url(#gB)" />
<line x1="528" y1="62.7" x2="529" y2="62.7" stroke="#fff" stroke-width="0.3" />
<line x1="532.8" y1="62.7" x2="533.8" y2="62.7" stroke="#fff" stroke-width="0.3" />
<text x="535.8" y="63.9" font-size="3.3" text-anchor="start" fill="#4d4d4d" stroke="#4d4d4d" stroke-width="0.06" >0.5</text>
<line x1="528" y1="68.8" x2="529" y2="68.8" stroke="#fff" stroke-width="0.3" />
<line x1="532.8" y1="68.8" x2="533.8" y2="68.8" stroke="#fff" stroke-width="0.3" />
<text x="535.8" y="70" font-size="3.3" text-anchor="start" fill="#4d4d4d" stroke="#4d4d4d" stroke-width="0.06" >0.4</text>
<line x1="528" y1="74.5" x2="529" y2="74.5" stroke="#fff" stroke-width="0.3" />
<line x1="532.8" y1="74.5" x2="533.8" y2="74.5" stroke="#fff" stroke-width="0.3" />
<text x="535.8" y="75.7" font-size="3.3" text-anchor="start" fill="#4d4d4d" stroke="#4d4d4d" stroke-width="0.06" >0.3</text>
<line x1="528" y1="80.4" x2="529" y2="80.4" stroke="#fff" stroke-width="0.3" />
<line x1="532.8" y1="80.4" x2="533.8" y2="80.4" stroke="#fff" stroke-width="0.3" />
<text x="535.8" y="81.6" font-size="3.3" text-anchor="start" fill="#4d4d4d" stroke="#4d4d4d" stroke-width="0.06" >0.2</text>
<line x1="528" y1="86.1" x2="529" y2="86.1" stroke="#fff" stroke-width="0.3" />
<line x1="532.8" y1="86.1" x2="533.8" y2="86.1" stroke="#fff" stroke-width="0.3" />
<text x="535.8" y="87.3" font-size="3.3" text-anchor="start" fill="#4d4d4d" stroke="#4d4d4d" stroke-width="0.06" >0.1</text>
<text x="2.1" y="153" font-size="5.0" text-anchor="start" fill="#333" stroke="#333" stroke-width="0.06" style="stroke-width:0.05">C</text>
<rect x="35.3" y="153.4" width="198.7" height="6.4" fill="#d9d9d9" />
<text x="134.6" y="157.9" font-size="3.2" text-anchor="middle" fill="#333" stroke="#333" stroke-width="0.06" >ranger</text>
<text x="33.3" y="164.2" font-size="3.35" text-anchor="end" fill="#666" stroke="#666" stroke-width="0.06" style="stroke-width:0.02">brd671</text>
<line x1="33.5" y1="163" x2="35" y2="163" stroke="#666" stroke-width="0.35" />
<line x1="80.6" y1="162" x2="96.6" y2="162" stroke="#a8a8a8" stroke-width="0.65" />
<line x1="44.6" y1="162" x2="45" y2="162" stroke="#a8a8a8" stroke-width="0.65" />
<line x1="80" y1="164" x2="84" y2="164" stroke="#a8a8a8" stroke-width="0.65" />
<line x1="44.6" y1="164" x2="50" y2="164" stroke="#a8a8a8" stroke-width="0.65" />
<rect x="45" y="161.15" width="35.6" height="1.65" fill="#3a72a8" stroke="#2a5580" stroke-width="0.3"/>
<rect x="50" y="163.15" width="30" height="1.7" fill="#c8191e" stroke="#9a1215" stroke-width="0.3"/>
<line x1="55" y1="161.1" x2="55" y2="162.8" stroke="#222" stroke-width="0.4" />
<line x1="61" y1="163.1" x2="61" y2="164.9" stroke="#222" stroke-width="0.4" />
<text x="33.3" y="169.15" font-size="3.35" text-anchor="end" fill="#666" stroke="#666" stroke-width="0.06" style="stroke-width:0.02">kur130</text>
<line x1="33.5" y1="167.95" x2="35" y2="167.95" stroke="#666" stroke-width="0.35" />
<line x1="50" y1="166.95" x2="52" y2="166.95" stroke="#a8a8a8" stroke-width="0.65" />
<line x1="44.6" y1="166.95" x2="45" y2="166.95" stroke="#a8a8a8" stroke-width="0.65" />
<line x1="76.6" y1="168.95" x2="112" y2="168.95" stroke="#a8a8a8" stroke-width="0.65" />
<line x1="44.6" y1="168.95" x2="50" y2="168.95" stroke="#a8a8a8" stroke-width="0.65" />
<rect x="45" y="166.1" width="5" height="1.65" fill="#3a72a8" stroke="#2a5580" stroke-width="0.3"/>
<rect x="50" y="168.1" width="26.6" height="1.7" fill="#c8191e" stroke="#9a1215" stroke-width="0.3"/>
<line x1="47" y1="166.05" x2="47" y2="167.75" stroke="#222" stroke-width="0.4" />
<line x1="62" y1="168.05" x2="62" y2="169.85" stroke="#222" stroke-width="0.4" />
<text x="166.3" y="169.45" font-size="2.9" text-anchor="middle" fill="#333" stroke="#333" stroke-width="0.06" >***</text>
<text x="33.3" y="174.1" font-size="3.35" text-anchor="end" fill="#666" stroke="#666" stroke-width="0.06" style="stroke-width:0.02">juh716</text>
<line x1="33.5" y1="172.9" x2="35" y2="172.9" stroke="#666" stroke-width="0.35" />
<line x1="66" y1="171.9" x2="78" y2="171.9" stroke="#a8a8a8" stroke-width="0.65" />
<line x1="44.6" y1="171.9" x2="48" y2="171.9" stroke="#a8a8a8" stroke-width="0.65" />
<line x1="132.5" y1="173.9" x2="225" y2="173.9" stroke="#a8a8a8" stroke-width="0.65" />
<line x1="44.6" y1="173.9" x2="58" y2="173.9" stroke="#a8a8a8" stroke-width="0.65" />
<rect x="48" y="171.05" width="18" height="1.65" fill="#3a72a8" stroke="#2a5580" stroke-width="0.3"/>
<rect x="58" y="173.05" width="74.5" height="1.7" fill="#c8191e" stroke="#9a1215" stroke-width="0.3"/>
<line x1="57" y1="171" x2="57" y2="172.7" stroke="#222" stroke-width="0.4" />
<line x1="103" y1="173" x2="103" y2="174.8" stroke="#222" stroke-width="0.4" />
<text x="166.3" y="174.4" font-size="2.9" text-anchor="middle" fill="#333" stroke="#333" stroke-width="0.06" >**</text>
<text x="33.3" y="179.05" font-size="3.35" text-anchor="end" fill="#666" stroke="#666" stroke-width="0.06" style="stroke-width:0.02">wei211</text>
<line x1="33.5" y1="177.85" x2="35" y2="177.85" stroke="#666" stroke-width="0.35" />
<line x1="47" y1="176.85" x2="48" y2="176.85" stroke="#a8a8a8" stroke-width="0.65" />
<line x1="44.6" y1="176.85" x2="45" y2="176.85" stroke="#a8a8a8" stroke-width="0.65" />
<line x1="69" y1="178.85" x2="93" y2="178.85" stroke="#a8a8a8" stroke-width="0.65" />
<line x1="44.6" y1="178.85" x2="48" y2="178.85" stroke="#a8a8a8" stroke-width="0.65" />
<rect x="45" y="176" width="2" height="1.65" fill="#3a72a8" stroke="#2a5580" stroke-width="0.3"/>
<rect x="48" y="178" width="21" height="1.7" fill="#c8191e" stroke="#9a1215" stroke-width="0.3"/>
<line x1="46" y1="175.95" x2="46" y2="177.65" stroke="#222" stroke-width="0.4" />
<line x1="55" y1="177.95" x2="55" y2="179.75" stroke="#222" stroke-width="0.4" />
<text x="166.3" y="179.35" font-size="2.9" text-anchor="middle" fill="#333" stroke="#333" stroke-width="0.06" >***</text>
<text x="33.3" y="184" font-size="3.35" text-anchor="end" fill="#666" stroke="#666" stroke-width="0.06" style="stroke-width:0.02">hdm201</text>
<line x1="33.5" y1="182.8" x2="35" y2="182.8" stroke="#666" stroke-width="0.35" />
<line x1="48" y1="181.8" x2="51" y2="181.8" stroke="#a8a8a8" stroke-width="0.65" />
<line x1="44.6" y1="181.8" x2="45" y2="181.8" stroke="#a8a8a8" stroke-width="0.65" />
<line x1="80" y1="183.8" x2="112" y2="183.8" stroke="#a8a8a8" stroke-width="0.65" />
<line x1="44.6" y1="183.8" x2="54" y2="183.8" stroke="#a8a8a8" stroke-width="0.65" />
<rect x="45" y="180.95" width="3" height="1.65" fill="#3a72a8" stroke="#2a5580" stroke-width="0.3"/>
<rect x="54" y="182.95" width="26" height="1.7" fill="#c8191e" stroke="#9a1215" stroke-width="0.3"/>
<line x1="46" y1="180.9" x2="46" y2="182.6" stroke="#222" stroke-width="0.4" />
<line x1="63" y1="182.9" x2="63" y2="184.7" stroke="#222" stroke-width="0.4" />
<text x="166.3" y="184.3" font-size="2.9" text-anchor="middle" fill="#333" stroke="#333" stroke-width="0.06" >***</text>
<text x="33.3" y="188.95" font-size="3.35" text-anchor="end" fill="#666" stroke="#666" stroke-width="0.06" style="stroke-width:0.02">cin457</text>
<line x1="33.5" y1="187.75" x2="35" y2="187.75" stroke="#666" stroke-width="0.35" />
<line x1="57" y1="186.75" x2="60" y2="186.75" stroke="#a8a8a8" stroke-width="0.65" />
<line x1="44.6" y1="186.75" x2="45" y2="186.75" stroke="#a8a8a8" stroke-width="0.65" />
<line x1="68" y1="188.75" x2="88.6" y2="188.75" stroke="#a8a8a8" stroke-width="0.65" />
<line x1="44.6" y1="188.75" x2="52" y2="188.75" stroke="#a8a8a8" stroke-width="0.65" />
<rect x="45" y="185.9" width="12" height="1.65" fill="#3a72a8" stroke="#2a5580" stroke-width="0.3"/>
<rect x="52" y="187.9" width="16" height="1.7" fill="#c8191e" stroke="#9a1215" stroke-width="0.3"/>
<line x1="50" y1="185.85" x2="50" y2="187.55" stroke="#222" stroke-width="0.4" />
<line x1="60" y1="187.85" x2="60" y2="189.65" stroke="#222" stroke-width="0.4" />
<text x="166.3" y="189.25" font-size="2.9" text-anchor="middle" fill="#333" stroke="#333" stroke-width="0.06" >*</text>
<text x="33.3" y="193.9" font-size="3.35" text-anchor="end" fill="#666" stroke="#666" stroke-width="0.06" style="stroke-width:0.02">ogm067</text>
<line x1="33.5" y1="192.7" x2="35" y2="192.7" stroke="#666" stroke-width="0.35" />
<line x1="47" y1="191.7" x2="48" y2="191.7" stroke="#a8a8a8" stroke-width="0.65" />
<line x1="44.6" y1="191.7" x2="44" y2="191.7" stroke="#a8a8a8" stroke-width="0.65" />
<line x1="52" y1="193.7" x2="57" y2="193.7" stroke="#a8a8a8" stroke-width="0.65" />
<line x1="44.6" y1="193.7" x2="45" y2="193.7" stroke="#a8a8a8" stroke-width="0.65" />
<rect x="44" y="190.85" width="3" height="1.65" fill="#3a72a8" stroke="#2a5580" stroke-width="0.3"/>
<rect x="45" y="192.85" width="7" height="1.7" fill="#c8191e" stroke="#9a1215" stroke-width="0.3"/>
<line x1="45" y1="190.8" x2="45" y2="192.5" stroke="#222" stroke-width="0.4" />
<line x1="48" y1="192.8" x2="48" y2="194.6" stroke="#222" stroke-width="0.4" />
<text x="33.3" y="198.85" font-size="3.35" text-anchor="end" fill="#666" stroke="#666" stroke-width="0.06" style="stroke-width:0.02">kyt719 (prn716)</text>
<line x1="33.5" y1="197.65" x2="35" y2="197.65" stroke="#666" stroke-width="0.35" />
<line x1="71" y1="196.65" x2="105" y2="196.65" stroke="#a8a8a8" stroke-width="0.65" />
<line x1="44.6" y1="196.65" x2="45" y2="196.65" stroke="#a8a8a8" stroke-width="0.65" />
<line x1="141" y1="198.65" x2="207" y2="198.65" stroke="#a8a8a8" stroke-width="0.65" />
<line x1="44.6" y1="198.65" x2="77" y2="198.65" stroke="#a8a8a8" stroke-width="0.65" />
<rect x="45" y="195.8" width="26" height="1.65" fill="#3a72a8" stroke="#2a5580" stroke-width="0.3"/>
<rect x="77" y="197.8" width="64" height="1.7" fill="#c8191e" stroke="#9a1215" stroke-width="0.3"/>
<line x1="55" y1="195.75" x2="55" y2="197.45" stroke="#222" stroke-width="0.4" />
<line x1="102" y1="197.75" x2="102" y2="199.55" stroke="#222" stroke-width="0.4" />
<text x="166.3" y="199.15" font-size="2.9" text-anchor="middle" fill="#333" stroke="#333" stroke-width="0.06" >***</text>
<text x="33.3" y="203.8" font-size="3.35" text-anchor="end" fill="#666" stroke="#666" stroke-width="0.06" style="stroke-width:0.02">kyt716</text>
<line x1="33.5" y1="202.6" x2="35" y2="202.6" stroke="#666" stroke-width="0.35" />
<line x1="52" y1="201.6" x2="57" y2="201.6" stroke="#a8a8a8" stroke-width="0.65" />
<line x1="44.6" y1="201.6" x2="47" y2="201.6" stroke="#a8a8a8" stroke-width="0.65" />
<line x1="70.6" y1="203.6" x2="93" y2="203.6" stroke="#a8a8a8" stroke-width="0.65" />
<line x1="44.6" y1="203.6" x2="55" y2="203.6" stroke="#a8a8a8" stroke-width="0.65" />
<rect x="47" y="200.75" width="5" height="1.65" fill="#3a72a8" stroke="#2a5580" stroke-width="0.3"/>
<rect x="55" y="202.75" width="15.6" height="1.7" fill="#c8191e" stroke="#9a1215" stroke-width="0.3"/>
<line x1="49" y1="200.7" x2="49" y2="202.4" stroke="#222" stroke-width="0.4" />
<line x1="62" y1="202.7" x2="62" y2="204.5" stroke="#222" stroke-width="0.4" />
<text x="166.3" y="204.1" font-size="2.9" text-anchor="middle" fill="#333" stroke="#333" stroke-width="0.06" >***</text>
<text x="33.3" y="208.75" font-size="3.35" text-anchor="end" fill="#666" stroke="#666" stroke-width="0.06" style="stroke-width:0.02">blkm120</text>
<line x1="33.5" y1="207.55" x2="35" y2="207.55" stroke="#666" stroke-width="0.35" />
<line x1="46" y1="206.55" x2="47" y2="206.55" stroke="#a8a8a8" stroke-width="0.65" />
<line x1="44.6" y1="206.55" x2="44" y2="206.55" stroke="#a8a8a8" stroke-width="0.65" />
<line x1="86" y1="208.55" x2="118.6" y2="208.55" stroke="#a8a8a8" stroke-width="0.65" />
<line x1="44.6" y1="208.55" x2="59" y2="208.55" stroke="#a8a8a8" stroke-width="0.65" />
<rect x="44" y="205.7" width="2" height="1.65" fill="#3a72a8" stroke="#2a5580" stroke-width="0.3"/>
<rect x="59" y="207.7" width="27" height="1.7" fill="#c8191e" stroke="#9a1215" stroke-width="0.3"/>
<line x1="45" y1="205.65" x2="45" y2="207.35" stroke="#222" stroke-width="0.4" />
<line x1="72" y1="207.65" x2="72" y2="209.45" stroke="#222" stroke-width="0.4" />
<text x="166.3" y="209.05" font-size="2.9" text-anchor="middle" fill="#333" stroke="#333" stroke-width="0.06" >***</text>
<text x="33.3" y="213.7" font-size="3.35" text-anchor="end" fill="#666" stroke="#666" stroke-width="0.06" style="stroke-width:0.02">bromelnib</text>
<line x1="33.5" y1="212.5" x2="35" y2="212.5" stroke="#666" stroke-width="0.35" />
<line x1="53" y1="211.5" x2="67" y2="211.5" stroke="#a8a8a8" stroke-width="0.65" />
<line x1="44.6" y1="211.5" x2="45" y2="211.5" stroke="#a8a8a8" stroke-width="0.65" />
<line x1="102.6" y1="213.5" x2="136.6" y2="213.5" stroke="#a8a8a8" stroke-width="0.65" />
<line x1="44.6" y1="213.5" x2="79.4" y2="213.5" stroke="#a8a8a8" stroke-width="0.65" />
<rect x="45" y="210.65" width="8" height="1.65" fill="#3a72a8" stroke="#2a5580" stroke-width="0.3"/>
<rect x="79.4" y="212.65" width="23.2" height="1.7" fill="#c8191e" stroke="#9a1215" stroke-width="0.3"/>
<line x1="49" y1="210.6" x2="49" y2="212.3" stroke="#222" stroke-width="0.4" />
<line x1="92" y1="212.6" x2="92" y2="214.4" stroke="#222" stroke-width="0.4" />
<text x="166.3" y="214" font-size="2.9" text-anchor="middle" fill="#333" stroke="#333" stroke-width="0.06" >***</text>
<text x="33.3" y="218.65" font-size="3.35" text-anchor="end" fill="#666" stroke="#666" stroke-width="0.06" style="stroke-width:0.02">kug398</text>
<line x1="33.5" y1="217.45" x2="35" y2="217.45" stroke="#666" stroke-width="0.35" />
<line x1="79" y1="216.45" x2="113" y2="216.45" stroke="#a8a8a8" stroke-width="0.65" />
<line x1="44.6" y1="216.45" x2="48" y2="216.45" stroke="#a8a8a8" stroke-width="0.65" />
<line x1="159" y1="218.45" x2="224" y2="218.45" stroke="#a8a8a8" stroke-width="0.65" />
<line x1="44.6" y1="218.45" x2="76" y2="218.45" stroke="#a8a8a8" stroke-width="0.65" />
<rect x="48" y="215.6" width="31" height="1.65" fill="#3a72a8" stroke="#2a5580" stroke-width="0.3"/>
<rect x="76" y="217.6" width="83" height="1.7" fill="#c8191e" stroke="#9a1215" stroke-width="0.3"/>
<line x1="60" y1="215.55" x2="60" y2="217.25" stroke="#222" stroke-width="0.4" />
<line x1="112" y1="217.55" x2="112" y2="219.35" stroke="#222" stroke-width="0.4" />
<text x="166.3" y="218.95" font-size="2.9" text-anchor="middle" fill="#333" stroke="#333" stroke-width="0.06" >**</text>
<line x1="44.6" y1="220.3" x2="44.6" y2="221.3" stroke="#666" stroke-width="0.35" />
<text x="44.6" y="224.6" font-size="3.7" text-anchor="middle" fill="#777" stroke="#777" stroke-width="0.06" style="stroke-width:0.03">0.0</text>
<line x1="105.2" y1="220.3" x2="105.2" y2="221.3" stroke="#666" stroke-width="0.35" />
<text x="105.2" y="224.6" font-size="3.7" text-anchor="middle" fill="#777" stroke="#777" stroke-width="0.06" style="stroke-width:0.03">0.2</text>
<line x1="165.8" y1="220.3" x2="165.8" y2="221.3" stroke="#666" stroke-width="0.35" />
<text x="165.8" y="224.6" font-size="3.7" text-anchor="middle" fill="#777" stroke="#777" stroke-width="0.06" style="stroke-width:0.03">0.4</text>
<line x1="226.4" y1="220.3" x2="226.4" y2="221.3" stroke="#666" stroke-width="0.35" />
<text x="226.4" y="224.6" font-size="3.7" text-anchor="middle" fill="#777" stroke="#777" stroke-width="0.06" style="stroke-width:0.03">0.6</text>
<text x="134.6" y="230.2" font-size="4.3" text-anchor="middle" fill="#2a2a2a" stroke="#2a2a2a" stroke-width="0.06" style="stroke-width:0.03">Requared</text>
<text font-size="4.2" text-anchor="middle" fill="#222" stroke="#222" stroke-width="0.04" transform="translate(9.3,190.7) rotate(-90)">Drugs</text>
<rect x="240.9" y="186.3" width="5.1" height="4" fill="#c8191e" stroke="#555" stroke-width="0.35"/>
<rect x="240.9" y="192.5" width="5.1" height="4" fill="#3a72a8" stroke="#555" stroke-width="0.35"/>
<text x="248.5" y="189.7" font-size="3.45" text-anchor="start" fill="#222" stroke="#222" stroke-width="0.06" >multiomics</text>
<text x="248.5" y="195.9" font-size="3.45" text-anchor="start" fill="#222" stroke="#222" stroke-width="0.06" >panel</text>
<text x="271.8" y="153" font-size="5.0" text-anchor="start" fill="#333" stroke="#333" stroke-width="0.06" style="stroke-width:0.05">D</text>
<text x="320.6" y="170.4" font-size="3.45" text-anchor="end" fill="#707070" stroke="#707070" stroke-width="0.06" style="stroke-width:0.02">HDAC inhibitor</text>
<line x1="321" y1="169.2" x2="322.6" y2="169.2" stroke="#444" stroke-width="0.4" />
<line x1="322.6" y1="169.2" x2="523" y2="169.2" stroke="#ececec" stroke-width="0.5" />
<text x="320.6" y="177.1" font-size="3.45" text-anchor="end" fill="#707070" stroke="#707070" stroke-width="0.06" style="stroke-width:0.02">bromodomain inhibitor</text>
<line x1="321" y1="175.9" x2="322.6" y2="175.9" stroke="#444" stroke-width="0.4" />
<line x1="322.6" y1="175.9" x2="523" y2="175.9" stroke="#ececec" stroke-width="0.5" />
<text x="320.6" y="183.8" font-size="3.45" text-anchor="end" fill="#707070" stroke="#707070" stroke-width="0.06" style="stroke-width:0.02">topoisomerase inhibitor</text>
<line x1="321" y1="182.6" x2="322.6" y2="182.6" stroke="#444" stroke-width="0.4" />
<line x1="322.6" y1="182.6" x2="523" y2="182.6" stroke="#ececec" stroke-width="0.5" />
<text x="320.6" y="190.5" font-size="3.45" text-anchor="end" fill="#707070" stroke="#707070" stroke-width="0.06" style="stroke-width:0.02">EGFR inhibitor</text>
<line x1="321" y1="189.3" x2="322.6" y2="189.3" stroke="#444" stroke-width="0.4" />
<line x1="322.6" y1="189.3" x2="523" y2="189.3" stroke="#ececec" stroke-width="0.5" />
<text x="320.6" y="197.2" font-size="3.45" text-anchor="end" fill="#707070" stroke="#707070" stroke-width="0.06" style="stroke-width:0.02">mTOR inhibitor</text>
<line x1="321" y1="196" x2="322.6" y2="196" stroke="#444" stroke-width="0.4" />
<line x1="322.6" y1="196" x2="523" y2="196" stroke="#ececec" stroke-width="0.5" />
<text x="320.6" y="203.9" font-size="3.45" text-anchor="end" fill="#707070" stroke="#707070" stroke-width="0.06" style="stroke-width:0.02">CDK inhibitor</text>
<line x1="321" y1="202.7" x2="322.6" y2="202.7" stroke="#444" stroke-width="0.4" />
<line x1="322.6" y1="202.7" x2="523" y2="202.7" stroke="#ececec" stroke-width="0.5" />
<text x="320.6" y="210.7" font-size="3.45" text-anchor="end" fill="#707070" stroke="#707070" stroke-width="0.06" style="stroke-width:0.02">PI3K inhibitor</text>
<line x1="321" y1="209.5" x2="322.6" y2="209.5" stroke="#444" stroke-width="0.4" />
<line x1="322.6" y1="209.5" x2="523" y2="209.5" stroke="#ececec" stroke-width="0.5" />
<text x="320.6" y="217.5" font-size="3.45" text-anchor="end" fill="#707070" stroke="#707070" stroke-width="0.06" style="stroke-width:0.02">AKT inhibitor</text>
<line x1="321" y1="216.3" x2="322.6" y2="216.3" stroke="#444" stroke-width="0.4" />
<line x1="322.6" y1="216.3" x2="523" y2="216.3" stroke="#ececec" stroke-width="0.5" />
<text font-size="4.2" text-anchor="middle" fill="#222" stroke="#222" stroke-width="0.04" transform="translate(280.3,190) rotate(-90)">Drug mechanism of action</text>
<defs><linearGradient id="gD" gradientUnits="userSpaceOnUse" x1="340" y1="0" x2="490" y2="0"><stop offset="0" stop-color="#9a9a9a"/><stop offset="0.22" stop-color="#c0bcbc"/><stop offset="0.4" stop-color="#dca498"/><stop offset="0.533" stop-color="#e8836f"/><stop offset="0.733" stop-color="#f25a42"/><stop offset="1" stop-color="#ff0a00"/></linearGradient></defs>
<defs><linearGradient id="gD2" x1="0" y1="0" x2="1" y2="0"><stop offset="0" stop-color="#6a6a6a"/><stop offset="0.21" stop-color="#c2c2c2"/><stop offset="0.32" stop-color="#d8b0a6"/><stop offset="0.51" stop-color="#e8836f"/><stop offset="0.74" stop-color="#f25a42"/><stop offset="1" stop-color="#ff0000"/></linearGradient></defs>
<path d="M355.2,169.2 C358.17,168.97 367.62,168.5 373,167.8 C378.38,167.1 383.83,165.97 387.5,165 C391.17,164.03 392.58,162.77 395,162 C397.42,161.23 399.5,160.65 402,160.4 C404.5,160.15 407.33,160.1 410,160.5 C412.67,160.9 415.5,161.78 418,162.8 C420.5,163.82 422.67,165.68 425,166.6 C427.33,167.52 429.5,167.95 432,168.3 C434.5,168.65 436.67,168.88 440,168.7 C443.33,168.52 448.33,167.25 452,167.2 C455.67,167.15 458.93,168.07 462,168.4 C465.07,168.73 469,169.07 470.4,169.2 L470.4,169.2 L355.2,169.2 Z" fill="url(#gD)" stroke="none"/>
<path d="M355.2,169.2 C358.17,168.97 367.62,168.5 373,167.8 C378.38,167.1 383.83,165.97 387.5,165 C391.17,164.03 392.58,162.77 395,162 C397.42,161.23 399.5,160.65 402,160.4 C404.5,160.15 407.33,160.1 410,160.5 C412.67,160.9 415.5,161.78 418,162.8 C420.5,163.82 422.67,165.68 425,166.6 C427.33,167.52 429.5,167.95 432,168.3 C434.5,168.65 436.67,168.88 440,168.7 C443.33,168.52 448.33,167.25 452,167.2 C455.67,167.15 458.93,168.07 462,168.4 C465.07,168.73 469,169.07 470.4,169.2" fill="none" stroke="#2a2a2a" stroke-width="0.7"/>
<path d="M350.5,175.9 C352.42,175.5 358.25,174.43 362,173.5 C365.75,172.57 368.83,171.28 373,170.3 C377.17,169.32 383.33,167.82 387,167.6 C390.67,167.38 392.83,168.48 395,169 C397.17,169.52 397.5,170.17 400,170.7 C402.5,171.23 406.67,171.6 410,172.2 C413.33,172.8 417.08,173.68 420,174.3 C422.92,174.92 426.25,175.63 427.5,175.9 L427.5,175.9 L350.5,175.9 Z" fill="url(#gD)" stroke="none"/>
<path d="M350.5,175.9 C352.42,175.5 358.25,174.43 362,173.5 C365.75,172.57 368.83,171.28 373,170.3 C377.17,169.32 383.33,167.82 387,167.6 C390.67,167.38 392.83,168.48 395,169 C397.17,169.52 397.5,170.17 400,170.7 C402.5,171.23 406.67,171.6 410,172.2 C413.33,172.8 417.08,173.68 420,174.3 C422.92,174.92 426.25,175.63 427.5,175.9" fill="none" stroke="#2a2a2a" stroke-width="0.7"/>
<path d="M466,175.9 C467.67,175.7 472.58,175.22 476,174.7 C479.42,174.18 483,172.8 486.5,172.8 C490,172.8 493.47,174.18 497,174.7 C500.53,175.22 505.92,175.7 507.7,175.9 L507.7,175.9 L466,175.9 Z" fill="url(#gD)" stroke="none"/>
<path d="M466,175.9 C467.67,175.7 472.58,175.22 476,174.7 C479.42,174.18 483,172.8 486.5,172.8 C490,172.8 493.47,174.18 497,174.7 C500.53,175.22 505.92,175.7 507.7,175.9" fill="none" stroke="#2a2a2a" stroke-width="0.7"/>
<path d="M360.7,182.6 C362.75,182.3 369.78,181.8 373,180.8 C376.22,179.8 377.67,177.77 380,176.6 C382.33,175.43 384.83,174.23 387,173.8 C389.17,173.37 390.83,173.7 393,174 C395.17,174.3 397.17,174.97 400,175.6 C402.83,176.23 406.67,177.53 410,177.8 C413.33,178.07 416.67,177.03 420,177.2 C423.33,177.37 426.67,178.27 430,178.8 C433.33,179.33 435.58,179.77 440,180.4 C444.42,181.03 453.75,182.23 456.5,182.6 L456.5,182.6 L360.7,182.6 Z" fill="url(#gD)" stroke="none"/>
<path d="M360.7,182.6 C362.75,182.3 369.78,181.8 373,180.8 C376.22,179.8 377.67,177.77 380,176.6 C382.33,175.43 384.83,174.23 387,173.8 C389.17,173.37 390.83,173.7 393,174 C395.17,174.3 397.17,174.97 400,175.6 C402.83,176.23 406.67,177.53 410,177.8 C413.33,178.07 416.67,177.03 420,177.2 C423.33,177.37 426.67,178.27 430,178.8 C433.33,179.33 435.58,179.77 440,180.4 C444.42,181.03 453.75,182.23 456.5,182.6" fill="none" stroke="#2a2a2a" stroke-width="0.7"/>
<path d="M352,189.3 C354.17,189.12 361.5,188.72 365,188.2 C368.5,187.68 370.5,186.9 373,186.2 C375.5,185.5 377.17,184.63 380,184 C382.83,183.37 386.67,182.67 390,182.4 C393.33,182.13 396.67,182.15 400,182.4 C403.33,182.65 405.83,183.42 410,183.9 C414.17,184.38 420,184.57 425,185.3 C430,186.03 436.17,187.63 440,188.3 C443.83,188.97 446.67,189.13 448,189.3 L448,189.3 L352,189.3 Z" fill="url(#gD)" stroke="none"/>
<path d="M352,189.3 C354.17,189.12 361.5,188.72 365,188.2 C368.5,187.68 370.5,186.9 373,186.2 C375.5,185.5 377.17,184.63 380,184 C382.83,183.37 386.67,182.67 390,182.4 C393.33,182.13 396.67,182.15 400,182.4 C403.33,182.65 405.83,183.42 410,183.9 C414.17,184.38 420,184.57 425,185.3 C430,186.03 436.17,187.63 440,188.3 C443.83,188.97 446.67,189.13 448,189.3" fill="none" stroke="#2a2a2a" stroke-width="0.7"/>
<path d="M359,196 C361.33,195.58 369.5,194.73 373,193.5 C376.5,192.27 377.67,190.15 380,188.6 C382.33,187.05 384.5,185.17 387,184.2 C389.5,183.23 392.5,182.75 395,182.8 C397.5,182.85 400,183.63 402,184.5 C404,185.37 405.33,186.83 407,188 C408.67,189.17 410.17,190.42 412,191.5 C413.83,192.58 416.07,193.75 418,194.5 C419.93,195.25 422.67,195.75 423.6,196 L423.6,196 L359,196 Z" fill="url(#gD)" stroke="none"/>
<path d="M359,196 C361.33,195.58 369.5,194.73 373,193.5 C376.5,192.27 377.67,190.15 380,188.6 C382.33,187.05 384.5,185.17 387,184.2 C389.5,183.23 392.5,182.75 395,182.8 C397.5,182.85 400,183.63 402,184.5 C404,185.37 405.33,186.83 407,188 C408.67,189.17 410.17,190.42 412,191.5 C413.83,192.58 416.07,193.75 418,194.5 C419.93,195.25 422.67,195.75 423.6,196" fill="none" stroke="#2a2a2a" stroke-width="0.7"/>
<path d="M337.4,202.7 C339.5,202.58 346.23,202.28 350,202 C353.77,201.72 356.17,201.65 360,201 C363.83,200.35 369.67,198.83 373,198.1 C376.33,197.37 377.17,197.02 380,196.6 C382.83,196.18 385.83,195.75 390,195.6 C394.17,195.45 400.83,195.23 405,195.7 C409.17,196.17 411.67,197.47 415,198.4 C418.33,199.33 422.17,200.58 425,201.3 C427.83,202.02 430.83,202.47 432,202.7 L432,202.7 L337.4,202.7 Z" fill="url(#gD)" stroke="none"/>
<path d="M337.4,202.7 C339.5,202.58 346.23,202.28 350,202 C353.77,201.72 356.17,201.65 360,201 C363.83,200.35 369.67,198.83 373,198.1 C376.33,197.37 377.17,197.02 380,196.6 C382.83,196.18 385.83,195.75 390,195.6 C394.17,195.45 400.83,195.23 405,195.7 C409.17,196.17 411.67,197.47 415,198.4 C418.33,199.33 422.17,200.58 425,201.3 C427.83,202.02 430.83,202.47 432,202.7" fill="none" stroke="#2a2a2a" stroke-width="0.7"/>
<path d="M349,209.5 C351.67,208.9 361,207.52 365,205.9 C369,204.28 370.5,201.35 373,199.8 C375.5,198.25 377.6,196.77 380,196.6 C382.4,196.43 384.07,197.5 387.4,198.8 C390.73,200.1 394.57,202.8 400,204.4 C405.43,206 415.33,207.55 420,208.4 C424.67,209.25 426.67,209.32 428,209.5 L428,209.5 L349,209.5 Z" fill="url(#gD)" stroke="none"/>
<path d="M349,209.5 C351.67,208.9 361,207.52 365,205.9 C369,204.28 370.5,201.35 373,199.8 C375.5,198.25 377.6,196.77 380,196.6 C382.4,196.43 384.07,197.5 387.4,198.8 C390.73,200.1 394.57,202.8 400,204.4 C405.43,206 415.33,207.55 420,208.4 C424.67,209.25 426.67,209.32 428,209.5" fill="none" stroke="#2a2a2a" stroke-width="0.7"/>
<path d="M345,216.3 C346.5,216.02 351,215.55 354,214.6 C357,213.65 360.33,211.95 363,210.6 C365.67,209.25 367.83,207.53 370,206.5 C372.17,205.47 373.83,204.65 376,204.4 C378.17,204.15 380.67,204.53 383,205 C385.33,205.47 387.17,206.15 390,207.2 C392.83,208.25 396.33,209.78 400,211.3 C403.67,212.82 410,215.47 412,216.3 L412,216.3 L345,216.3 Z" fill="url(#gD)" stroke="none"/>
<path d="M345,216.3 C346.5,216.02 351,215.55 354,214.6 C357,213.65 360.33,211.95 363,210.6 C365.67,209.25 367.83,207.53 370,206.5 C372.17,205.47 373.83,204.65 376,204.4 C378.17,204.15 380.67,204.53 383,205 C385.33,205.47 387.17,206.15 390,207.2 C392.83,208.25 396.33,209.78 400,211.3 C403.67,212.82 410,215.47 412,216.3" fill="none" stroke="#2a2a2a" stroke-width="0.7"/>
<line x1="373.2" y1="160.2" x2="373.2" y2="220.2" stroke="#858585" stroke-width="1.3" />
<line x1="387.5" y1="160.3" x2="387.5" y2="220.5" stroke="#444" stroke-width="0.75" stroke-dasharray="1.2,1.1"/>
<line x1="373.2" y1="220.6" x2="373.2" y2="221.8" stroke="#666" stroke-width="0.35" />
<text x="373.2" y="224.9" font-size="3.7" text-anchor="middle" fill="#777" stroke="#777" stroke-width="0.06" style="stroke-width:0.03">0.0</text>
<line x1="428.6" y1="220.6" x2="428.6" y2="221.8" stroke="#666" stroke-width="0.35" />
<text x="428.6" y="224.9" font-size="3.7" text-anchor="middle" fill="#777" stroke="#777" stroke-width="0.06" style="stroke-width:0.03">0.2</text>
<line x1="484" y1="220.6" x2="484" y2="221.8" stroke="#666" stroke-width="0.35" />
<text x="484" y="224.9" font-size="3.7" text-anchor="middle" fill="#777" stroke="#777" stroke-width="0.06" style="stroke-width:0.03">0.4</text>
<text x="387" y="231.7" font-size="4.17" text-anchor="start" fill="#2a2a2a" stroke="#2a2a2a" stroke-width="0.06" style="stroke-width:0.03">Mean Improvement (CCLE,Requared)</text>
<rect x="358.2" y="237.2" width="130.5" height="4.6" fill="url(#gD2)" />
</g>
</svg></body></html>
